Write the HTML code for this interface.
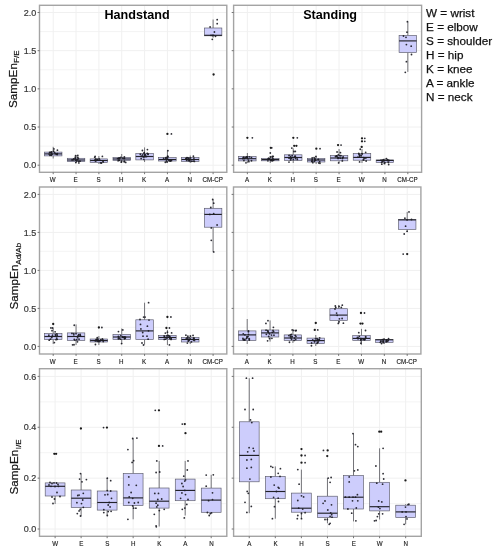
<!DOCTYPE html>
<html><head><meta charset="utf-8"><style>
html,body{margin:0;padding:0;background:#fff;}
svg{display:block;}
svg{will-change:transform;}
text{font-family:"Liberation Sans",sans-serif;}
.xl{font-size:7px;fill:#222;stroke:#222;stroke-width:0.16px;}
.yl{font-size:9px;fill:#383838;stroke:#383838;stroke-width:0.2px;}
.ft{font-size:12.6px;font-weight:bold;fill:#000;}
.yt{font-size:11.7px;fill:#111;stroke:#111;stroke-width:0.2px;}
.yt.sub{font-size:8px;}
.lg{font-size:11.7px;fill:#111;stroke:#111;stroke-width:0.25px;}
</style></head>
<body>
<svg width="496" height="550" viewBox="0 0 496 550">
<rect width="496" height="550" fill="#ffffff"/>
<line x1="39.5" x2="226.8" y1="146.11" y2="146.11" stroke="#f3f3f3" stroke-width="0.9"/>
<line x1="39.5" x2="226.8" y1="107.94" y2="107.94" stroke="#f3f3f3" stroke-width="0.9"/>
<line x1="39.5" x2="226.8" y1="69.76" y2="69.76" stroke="#f3f3f3" stroke-width="0.9"/>
<line x1="39.5" x2="226.8" y1="31.59" y2="31.59" stroke="#f3f3f3" stroke-width="0.9"/>
<line x1="39.5" x2="226.8" y1="165.20" y2="165.20" stroke="#f0f0f0" stroke-width="1"/>
<line x1="39.5" x2="226.8" y1="127.02" y2="127.02" stroke="#f0f0f0" stroke-width="1"/>
<line x1="39.5" x2="226.8" y1="88.85" y2="88.85" stroke="#f0f0f0" stroke-width="1"/>
<line x1="39.5" x2="226.8" y1="50.67" y2="50.67" stroke="#f0f0f0" stroke-width="1"/>
<line x1="39.5" x2="226.8" y1="12.50" y2="12.50" stroke="#f0f0f0" stroke-width="1"/>
<line x1="53.20" x2="53.20" y1="5.3" y2="172.3" stroke="#f0f0f0" stroke-width="1"/>
<line x1="76.05" x2="76.05" y1="5.3" y2="172.3" stroke="#f0f0f0" stroke-width="1"/>
<line x1="98.89" x2="98.89" y1="5.3" y2="172.3" stroke="#f0f0f0" stroke-width="1"/>
<line x1="121.73" x2="121.73" y1="5.3" y2="172.3" stroke="#f0f0f0" stroke-width="1"/>
<line x1="144.57" x2="144.57" y1="5.3" y2="172.3" stroke="#f0f0f0" stroke-width="1"/>
<line x1="167.41" x2="167.41" y1="5.3" y2="172.3" stroke="#f0f0f0" stroke-width="1"/>
<line x1="190.25" x2="190.25" y1="5.3" y2="172.3" stroke="#f0f0f0" stroke-width="1"/>
<line x1="213.10" x2="213.10" y1="5.3" y2="172.3" stroke="#f0f0f0" stroke-width="1"/>
<line x1="53.20" x2="53.20" y1="146.8" y2="152.1" stroke="#48484f" stroke-width="0.75"/>
<line x1="53.20" x2="53.20" y1="155.9" y2="158.5" stroke="#48484f" stroke-width="0.75"/>
<rect x="44.45" y="152.1" width="17.5" height="3.80" fill="#cdcdfc" stroke="#5a5a68" stroke-width="0.65"/>
<line x1="44.45" x2="61.95" y1="153.9" y2="153.9" stroke="#222228" stroke-width="1.15"/>
<circle cx="54.53" cy="152.67" r="0.9" fill="#1c1c24" fill-opacity="0.92"/>
<circle cx="52.03" cy="154.14" r="0.9" fill="#1c1c24" fill-opacity="0.92"/>
<circle cx="49.16" cy="154.03" r="0.9" fill="#1c1c24" fill-opacity="0.92"/>
<circle cx="49.62" cy="152.37" r="0.9" fill="#1c1c24" fill-opacity="0.92"/>
<circle cx="49.91" cy="155.24" r="0.9" fill="#1c1c24" fill-opacity="0.92"/>
<circle cx="57.12" cy="154.48" r="0.9" fill="#1c1c24" fill-opacity="0.92"/>
<circle cx="57.37" cy="153.61" r="0.9" fill="#1c1c24" fill-opacity="0.92"/>
<circle cx="51.36" cy="155.36" r="0.9" fill="#1c1c24" fill-opacity="0.92"/>
<circle cx="51.53" cy="152.55" r="0.9" fill="#1c1c24" fill-opacity="0.92"/>
<circle cx="53.92" cy="148.91" r="0.9" fill="#1c1c24" fill-opacity="0.92"/>
<circle cx="53.62" cy="151.16" r="0.9" fill="#1c1c24" fill-opacity="0.92"/>
<circle cx="50.63" cy="152.33" r="0.9" fill="#1c1c24" fill-opacity="0.92"/>
<circle cx="51.58" cy="151.80" r="0.9" fill="#1c1c24" fill-opacity="0.92"/>
<circle cx="51.45" cy="153.82" r="0.9" fill="#1c1c24" fill-opacity="0.92"/>
<circle cx="50.97" cy="154.98" r="0.9" fill="#1c1c24" fill-opacity="0.92"/>
<circle cx="56.49" cy="154.10" r="0.9" fill="#1c1c24" fill-opacity="0.92"/>
<circle cx="57.41" cy="150.17" r="0.9" fill="#1c1c24" fill-opacity="0.92"/>
<circle cx="55.45" cy="153.69" r="0.9" fill="#1c1c24" fill-opacity="0.92"/>
<line x1="76.05" x2="76.05" y1="155.0" y2="158.3" stroke="#48484f" stroke-width="0.75"/>
<line x1="76.05" x2="76.05" y1="161.6" y2="163.0" stroke="#48484f" stroke-width="0.75"/>
<rect x="67.30" y="158.3" width="17.5" height="3.30" fill="#cdcdfc" stroke="#5a5a68" stroke-width="0.65"/>
<line x1="67.30" x2="84.80" y1="160.0" y2="160.0" stroke="#222228" stroke-width="1.15"/>
<circle cx="72.01" cy="159.91" r="0.9" fill="#1c1c24" fill-opacity="0.92"/>
<circle cx="76.69" cy="161.12" r="0.9" fill="#1c1c24" fill-opacity="0.92"/>
<circle cx="77.76" cy="157.51" r="0.9" fill="#1c1c24" fill-opacity="0.92"/>
<circle cx="75.66" cy="160.21" r="0.9" fill="#1c1c24" fill-opacity="0.92"/>
<circle cx="75.82" cy="162.56" r="0.9" fill="#1c1c24" fill-opacity="0.92"/>
<circle cx="77.81" cy="155.49" r="0.9" fill="#1c1c24" fill-opacity="0.92"/>
<circle cx="78.86" cy="162.94" r="0.9" fill="#1c1c24" fill-opacity="0.92"/>
<circle cx="77.52" cy="159.57" r="0.9" fill="#1c1c24" fill-opacity="0.92"/>
<circle cx="73.14" cy="159.82" r="0.9" fill="#1c1c24" fill-opacity="0.92"/>
<circle cx="78.39" cy="158.49" r="0.9" fill="#1c1c24" fill-opacity="0.92"/>
<circle cx="75.09" cy="159.12" r="0.9" fill="#1c1c24" fill-opacity="0.92"/>
<circle cx="75.60" cy="155.64" r="0.9" fill="#1c1c24" fill-opacity="0.92"/>
<circle cx="78.84" cy="161.22" r="0.9" fill="#1c1c24" fill-opacity="0.92"/>
<circle cx="75.31" cy="157.23" r="0.9" fill="#1c1c24" fill-opacity="0.92"/>
<circle cx="80.05" cy="161.22" r="0.9" fill="#1c1c24" fill-opacity="0.92"/>
<circle cx="73.70" cy="158.88" r="0.9" fill="#1c1c24" fill-opacity="0.92"/>
<circle cx="76.83" cy="159.90" r="0.9" fill="#1c1c24" fill-opacity="0.92"/>
<circle cx="75.34" cy="158.31" r="0.9" fill="#1c1c24" fill-opacity="0.92"/>
<line x1="98.89" x2="98.89" y1="156.0" y2="158.9" stroke="#48484f" stroke-width="0.75"/>
<line x1="98.89" x2="98.89" y1="162.5" y2="164.0" stroke="#48484f" stroke-width="0.75"/>
<rect x="90.14" y="158.9" width="17.5" height="3.60" fill="#cdcdfc" stroke="#5a5a68" stroke-width="0.65"/>
<line x1="90.14" x2="107.64" y1="160.5" y2="160.5" stroke="#222228" stroke-width="1.15"/>
<circle cx="102.85" cy="160.94" r="0.9" fill="#1c1c24" fill-opacity="0.92"/>
<circle cx="99.92" cy="160.12" r="0.9" fill="#1c1c24" fill-opacity="0.92"/>
<circle cx="102.38" cy="156.43" r="0.9" fill="#1c1c24" fill-opacity="0.92"/>
<circle cx="101.49" cy="163.00" r="0.9" fill="#1c1c24" fill-opacity="0.92"/>
<circle cx="95.42" cy="160.34" r="0.9" fill="#1c1c24" fill-opacity="0.92"/>
<circle cx="95.10" cy="156.50" r="0.9" fill="#1c1c24" fill-opacity="0.92"/>
<circle cx="97.49" cy="159.48" r="0.9" fill="#1c1c24" fill-opacity="0.92"/>
<circle cx="95.84" cy="158.90" r="0.9" fill="#1c1c24" fill-opacity="0.92"/>
<circle cx="94.74" cy="160.21" r="0.9" fill="#1c1c24" fill-opacity="0.92"/>
<circle cx="95.81" cy="160.91" r="0.9" fill="#1c1c24" fill-opacity="0.92"/>
<circle cx="97.70" cy="160.15" r="0.9" fill="#1c1c24" fill-opacity="0.92"/>
<circle cx="103.20" cy="161.96" r="0.9" fill="#1c1c24" fill-opacity="0.92"/>
<circle cx="95.26" cy="160.64" r="0.9" fill="#1c1c24" fill-opacity="0.92"/>
<circle cx="96.83" cy="160.13" r="0.9" fill="#1c1c24" fill-opacity="0.92"/>
<circle cx="94.71" cy="157.29" r="0.9" fill="#1c1c24" fill-opacity="0.92"/>
<circle cx="95.80" cy="160.23" r="0.9" fill="#1c1c24" fill-opacity="0.92"/>
<circle cx="99.13" cy="159.00" r="0.9" fill="#1c1c24" fill-opacity="0.92"/>
<circle cx="100.60" cy="162.91" r="0.9" fill="#1c1c24" fill-opacity="0.92"/>
<line x1="121.73" x2="121.73" y1="154.0" y2="157.5" stroke="#48484f" stroke-width="0.75"/>
<line x1="121.73" x2="121.73" y1="160.5" y2="162.5" stroke="#48484f" stroke-width="0.75"/>
<rect x="112.98" y="157.5" width="17.5" height="3.00" fill="#cdcdfc" stroke="#5a5a68" stroke-width="0.65"/>
<line x1="112.98" x2="130.48" y1="159.0" y2="159.0" stroke="#222228" stroke-width="1.15"/>
<circle cx="118.82" cy="158.60" r="0.9" fill="#1c1c24" fill-opacity="0.92"/>
<circle cx="124.17" cy="158.53" r="0.9" fill="#1c1c24" fill-opacity="0.92"/>
<circle cx="124.45" cy="158.17" r="0.9" fill="#1c1c24" fill-opacity="0.92"/>
<circle cx="124.41" cy="161.25" r="0.9" fill="#1c1c24" fill-opacity="0.92"/>
<circle cx="119.34" cy="160.29" r="0.9" fill="#1c1c24" fill-opacity="0.92"/>
<circle cx="117.61" cy="158.57" r="0.9" fill="#1c1c24" fill-opacity="0.92"/>
<circle cx="119.62" cy="158.34" r="0.9" fill="#1c1c24" fill-opacity="0.92"/>
<circle cx="121.27" cy="162.13" r="0.9" fill="#1c1c24" fill-opacity="0.92"/>
<circle cx="125.71" cy="162.40" r="0.9" fill="#1c1c24" fill-opacity="0.92"/>
<circle cx="119.34" cy="158.16" r="0.9" fill="#1c1c24" fill-opacity="0.92"/>
<circle cx="122.81" cy="158.11" r="0.9" fill="#1c1c24" fill-opacity="0.92"/>
<circle cx="121.55" cy="161.14" r="0.9" fill="#1c1c24" fill-opacity="0.92"/>
<circle cx="118.10" cy="160.80" r="0.9" fill="#1c1c24" fill-opacity="0.92"/>
<circle cx="124.20" cy="161.73" r="0.9" fill="#1c1c24" fill-opacity="0.92"/>
<circle cx="118.92" cy="158.06" r="0.9" fill="#1c1c24" fill-opacity="0.92"/>
<circle cx="124.36" cy="156.83" r="0.9" fill="#1c1c24" fill-opacity="0.92"/>
<circle cx="120.87" cy="157.36" r="0.9" fill="#1c1c24" fill-opacity="0.92"/>
<circle cx="118.84" cy="160.16" r="0.9" fill="#1c1c24" fill-opacity="0.92"/>
<line x1="144.57" x2="144.57" y1="147.4" y2="153.4" stroke="#48484f" stroke-width="0.75"/>
<line x1="144.57" x2="144.57" y1="159.9" y2="162.0" stroke="#48484f" stroke-width="0.75"/>
<rect x="135.82" y="153.4" width="17.5" height="6.50" fill="#cdcdfc" stroke="#5a5a68" stroke-width="0.65"/>
<line x1="135.82" x2="153.32" y1="156.5" y2="156.5" stroke="#222228" stroke-width="1.15"/>
<circle cx="148.11" cy="154.38" r="0.9" fill="#1c1c24" fill-opacity="0.92"/>
<circle cx="147.43" cy="149.53" r="0.9" fill="#1c1c24" fill-opacity="0.92"/>
<circle cx="143.26" cy="157.00" r="0.9" fill="#1c1c24" fill-opacity="0.92"/>
<circle cx="140.32" cy="154.25" r="0.9" fill="#1c1c24" fill-opacity="0.92"/>
<circle cx="144.80" cy="156.89" r="0.9" fill="#1c1c24" fill-opacity="0.92"/>
<circle cx="147.82" cy="153.73" r="0.9" fill="#1c1c24" fill-opacity="0.92"/>
<circle cx="142.40" cy="150.48" r="0.9" fill="#1c1c24" fill-opacity="0.92"/>
<circle cx="145.33" cy="154.96" r="0.9" fill="#1c1c24" fill-opacity="0.92"/>
<circle cx="141.34" cy="156.12" r="0.9" fill="#1c1c24" fill-opacity="0.92"/>
<circle cx="144.20" cy="152.57" r="0.9" fill="#1c1c24" fill-opacity="0.92"/>
<circle cx="143.88" cy="159.28" r="0.9" fill="#1c1c24" fill-opacity="0.92"/>
<circle cx="144.85" cy="154.72" r="0.9" fill="#1c1c24" fill-opacity="0.92"/>
<circle cx="144.05" cy="153.52" r="0.9" fill="#1c1c24" fill-opacity="0.92"/>
<circle cx="147.19" cy="153.43" r="0.9" fill="#1c1c24" fill-opacity="0.92"/>
<circle cx="146.54" cy="156.48" r="0.9" fill="#1c1c24" fill-opacity="0.92"/>
<circle cx="144.73" cy="155.52" r="0.9" fill="#1c1c24" fill-opacity="0.92"/>
<circle cx="141.12" cy="158.50" r="0.9" fill="#1c1c24" fill-opacity="0.92"/>
<circle cx="142.62" cy="155.02" r="0.9" fill="#1c1c24" fill-opacity="0.92"/>
<line x1="167.41" x2="167.41" y1="150.4" y2="157.5" stroke="#48484f" stroke-width="0.75"/>
<line x1="167.41" x2="167.41" y1="161.0" y2="163.0" stroke="#48484f" stroke-width="0.75"/>
<rect x="158.66" y="157.5" width="17.5" height="3.50" fill="#cdcdfc" stroke="#5a5a68" stroke-width="0.65"/>
<line x1="158.66" x2="176.16" y1="159.5" y2="159.5" stroke="#222228" stroke-width="1.15"/>
<circle cx="167.41" cy="133.9" r="1.15" fill="#1a1a1a"/>
<circle cx="171.41" cy="133.9" r="0.9" fill="#1c1c24" fill-opacity="0.92"/>
<circle cx="167.95" cy="156.80" r="0.9" fill="#1c1c24" fill-opacity="0.92"/>
<circle cx="166.92" cy="161.90" r="0.9" fill="#1c1c24" fill-opacity="0.92"/>
<circle cx="167.52" cy="156.77" r="0.9" fill="#1c1c24" fill-opacity="0.92"/>
<circle cx="167.70" cy="156.10" r="0.9" fill="#1c1c24" fill-opacity="0.92"/>
<circle cx="169.16" cy="160.80" r="0.9" fill="#1c1c24" fill-opacity="0.92"/>
<circle cx="165.31" cy="162.27" r="0.9" fill="#1c1c24" fill-opacity="0.92"/>
<circle cx="170.39" cy="160.80" r="0.9" fill="#1c1c24" fill-opacity="0.92"/>
<circle cx="166.91" cy="157.93" r="0.9" fill="#1c1c24" fill-opacity="0.92"/>
<circle cx="163.68" cy="158.34" r="0.9" fill="#1c1c24" fill-opacity="0.92"/>
<circle cx="170.89" cy="160.28" r="0.9" fill="#1c1c24" fill-opacity="0.92"/>
<circle cx="168.81" cy="160.01" r="0.9" fill="#1c1c24" fill-opacity="0.92"/>
<circle cx="171.50" cy="160.59" r="0.9" fill="#1c1c24" fill-opacity="0.92"/>
<circle cx="166.52" cy="160.83" r="0.9" fill="#1c1c24" fill-opacity="0.92"/>
<circle cx="170.32" cy="160.96" r="0.9" fill="#1c1c24" fill-opacity="0.92"/>
<circle cx="167.55" cy="159.01" r="0.9" fill="#1c1c24" fill-opacity="0.92"/>
<circle cx="165.82" cy="158.19" r="0.9" fill="#1c1c24" fill-opacity="0.92"/>
<circle cx="167.89" cy="150.65" r="0.9" fill="#1c1c24" fill-opacity="0.92"/>
<circle cx="165.94" cy="157.56" r="0.9" fill="#1c1c24" fill-opacity="0.92"/>
<line x1="190.25" x2="190.25" y1="155.5" y2="157.5" stroke="#48484f" stroke-width="0.75"/>
<line x1="190.25" x2="190.25" y1="161.5" y2="163.0" stroke="#48484f" stroke-width="0.75"/>
<rect x="181.50" y="157.5" width="17.5" height="4.00" fill="#cdcdfc" stroke="#5a5a68" stroke-width="0.65"/>
<line x1="181.50" x2="199.00" y1="159.5" y2="159.5" stroke="#222228" stroke-width="1.15"/>
<circle cx="186.44" cy="159.34" r="0.9" fill="#1c1c24" fill-opacity="0.92"/>
<circle cx="194.38" cy="161.41" r="0.9" fill="#1c1c24" fill-opacity="0.92"/>
<circle cx="186.23" cy="158.56" r="0.9" fill="#1c1c24" fill-opacity="0.92"/>
<circle cx="187.01" cy="157.53" r="0.9" fill="#1c1c24" fill-opacity="0.92"/>
<circle cx="193.04" cy="161.15" r="0.9" fill="#1c1c24" fill-opacity="0.92"/>
<circle cx="193.92" cy="158.10" r="0.9" fill="#1c1c24" fill-opacity="0.92"/>
<circle cx="186.66" cy="160.30" r="0.9" fill="#1c1c24" fill-opacity="0.92"/>
<circle cx="189.60" cy="160.25" r="0.9" fill="#1c1c24" fill-opacity="0.92"/>
<circle cx="191.43" cy="161.25" r="0.9" fill="#1c1c24" fill-opacity="0.92"/>
<circle cx="193.37" cy="156.13" r="0.9" fill="#1c1c24" fill-opacity="0.92"/>
<circle cx="189.85" cy="160.95" r="0.9" fill="#1c1c24" fill-opacity="0.92"/>
<circle cx="193.99" cy="159.71" r="0.9" fill="#1c1c24" fill-opacity="0.92"/>
<circle cx="190.49" cy="158.02" r="0.9" fill="#1c1c24" fill-opacity="0.92"/>
<circle cx="187.29" cy="157.94" r="0.9" fill="#1c1c24" fill-opacity="0.92"/>
<circle cx="188.61" cy="158.31" r="0.9" fill="#1c1c24" fill-opacity="0.92"/>
<circle cx="188.42" cy="160.54" r="0.9" fill="#1c1c24" fill-opacity="0.92"/>
<circle cx="188.91" cy="158.21" r="0.9" fill="#1c1c24" fill-opacity="0.92"/>
<circle cx="186.01" cy="158.50" r="0.9" fill="#1c1c24" fill-opacity="0.92"/>
<line x1="213.10" x2="213.10" y1="19.5" y2="28.0" stroke="#48484f" stroke-width="0.75"/>
<line x1="213.10" x2="213.10" y1="35.8" y2="37.7" stroke="#48484f" stroke-width="0.75"/>
<rect x="204.35" y="28.0" width="17.5" height="7.80" fill="#cdcdfc" stroke="#5a5a68" stroke-width="0.65"/>
<line x1="204.35" x2="221.85" y1="35.3" y2="35.3" stroke="#222228" stroke-width="1.15"/>
<circle cx="213.60" cy="74.5" r="1.15" fill="#1a1a1a"/>
<circle cx="217.20" cy="19.70" r="0.9" fill="#1c1c24" fill-opacity="0.92"/>
<circle cx="217.20" cy="23.70" r="0.9" fill="#1c1c24" fill-opacity="0.92"/>
<circle cx="210.10" cy="27.00" r="0.9" fill="#1c1c24" fill-opacity="0.92"/>
<circle cx="214.40" cy="32.00" r="0.9" fill="#1c1c24" fill-opacity="0.92"/>
<circle cx="212.50" cy="35.50" r="0.9" fill="#1c1c24" fill-opacity="0.92"/>
<circle cx="215.50" cy="36.30" r="0.9" fill="#1c1c24" fill-opacity="0.92"/>
<circle cx="212.30" cy="39.30" r="0.9" fill="#1c1c24" fill-opacity="0.92"/>
<circle cx="211.00" cy="35.30" r="0.9" fill="#1c1c24" fill-opacity="0.92"/>
<circle cx="213.50" cy="35.30" r="0.9" fill="#1c1c24" fill-opacity="0.92"/>
<rect x="39.5" y="5.3" width="187.30" height="167.00" fill="none" stroke="#a4a4a4" stroke-width="1.4"/>
<line x1="37.60" x2="39.5" y1="165.20" y2="165.20" stroke="#666" stroke-width="0.9"/>
<line x1="37.60" x2="39.5" y1="127.02" y2="127.02" stroke="#666" stroke-width="0.9"/>
<line x1="37.60" x2="39.5" y1="88.85" y2="88.85" stroke="#666" stroke-width="0.9"/>
<line x1="37.60" x2="39.5" y1="50.67" y2="50.67" stroke="#666" stroke-width="0.9"/>
<line x1="37.60" x2="39.5" y1="12.50" y2="12.50" stroke="#666" stroke-width="0.9"/>
<line x1="53.20" x2="53.20" y1="172.3" y2="174.20" stroke="#666" stroke-width="0.9"/>
<text transform="translate(52.80,181.90) scale(0.89,1)" text-anchor="middle" class="xl">W</text>
<line x1="76.05" x2="76.05" y1="172.3" y2="174.20" stroke="#666" stroke-width="0.9"/>
<text transform="translate(75.65,181.90) scale(0.89,1)" text-anchor="middle" class="xl">E</text>
<line x1="98.89" x2="98.89" y1="172.3" y2="174.20" stroke="#666" stroke-width="0.9"/>
<text transform="translate(98.49,181.90) scale(0.89,1)" text-anchor="middle" class="xl">S</text>
<line x1="121.73" x2="121.73" y1="172.3" y2="174.20" stroke="#666" stroke-width="0.9"/>
<text transform="translate(121.33,181.90) scale(0.89,1)" text-anchor="middle" class="xl">H</text>
<line x1="144.57" x2="144.57" y1="172.3" y2="174.20" stroke="#666" stroke-width="0.9"/>
<text transform="translate(144.17,181.90) scale(0.89,1)" text-anchor="middle" class="xl">K</text>
<line x1="167.41" x2="167.41" y1="172.3" y2="174.20" stroke="#666" stroke-width="0.9"/>
<text transform="translate(167.01,181.90) scale(0.89,1)" text-anchor="middle" class="xl">A</text>
<line x1="190.25" x2="190.25" y1="172.3" y2="174.20" stroke="#666" stroke-width="0.9"/>
<text transform="translate(189.85,181.90) scale(0.89,1)" text-anchor="middle" class="xl">N</text>
<line x1="213.10" x2="213.10" y1="172.3" y2="174.20" stroke="#666" stroke-width="0.9"/>
<text transform="translate(212.70,181.90) scale(0.89,1)" text-anchor="middle" class="xl">CM-CP</text>
<line x1="233.6" x2="421.6" y1="146.11" y2="146.11" stroke="#f3f3f3" stroke-width="0.9"/>
<line x1="233.6" x2="421.6" y1="107.94" y2="107.94" stroke="#f3f3f3" stroke-width="0.9"/>
<line x1="233.6" x2="421.6" y1="69.76" y2="69.76" stroke="#f3f3f3" stroke-width="0.9"/>
<line x1="233.6" x2="421.6" y1="31.59" y2="31.59" stroke="#f3f3f3" stroke-width="0.9"/>
<line x1="233.6" x2="421.6" y1="165.20" y2="165.20" stroke="#f0f0f0" stroke-width="1"/>
<line x1="233.6" x2="421.6" y1="127.02" y2="127.02" stroke="#f0f0f0" stroke-width="1"/>
<line x1="233.6" x2="421.6" y1="88.85" y2="88.85" stroke="#f0f0f0" stroke-width="1"/>
<line x1="233.6" x2="421.6" y1="50.67" y2="50.67" stroke="#f0f0f0" stroke-width="1"/>
<line x1="233.6" x2="421.6" y1="12.50" y2="12.50" stroke="#f0f0f0" stroke-width="1"/>
<line x1="247.36" x2="247.36" y1="5.3" y2="172.3" stroke="#f0f0f0" stroke-width="1"/>
<line x1="270.28" x2="270.28" y1="5.3" y2="172.3" stroke="#f0f0f0" stroke-width="1"/>
<line x1="293.21" x2="293.21" y1="5.3" y2="172.3" stroke="#f0f0f0" stroke-width="1"/>
<line x1="316.14" x2="316.14" y1="5.3" y2="172.3" stroke="#f0f0f0" stroke-width="1"/>
<line x1="339.06" x2="339.06" y1="5.3" y2="172.3" stroke="#f0f0f0" stroke-width="1"/>
<line x1="361.99" x2="361.99" y1="5.3" y2="172.3" stroke="#f0f0f0" stroke-width="1"/>
<line x1="384.92" x2="384.92" y1="5.3" y2="172.3" stroke="#f0f0f0" stroke-width="1"/>
<line x1="407.84" x2="407.84" y1="5.3" y2="172.3" stroke="#f0f0f0" stroke-width="1"/>
<line x1="247.36" x2="247.36" y1="153.0" y2="156.5" stroke="#48484f" stroke-width="0.75"/>
<line x1="247.36" x2="247.36" y1="160.9" y2="163.0" stroke="#48484f" stroke-width="0.75"/>
<rect x="238.61" y="156.5" width="17.5" height="4.40" fill="#cdcdfc" stroke="#5a5a68" stroke-width="0.65"/>
<line x1="238.61" x2="256.11" y1="158.7" y2="158.7" stroke="#222228" stroke-width="1.15"/>
<circle cx="247.36" cy="137.8" r="1.15" fill="#1a1a1a"/>
<circle cx="252.36" cy="137.8" r="0.9" fill="#1c1c24" fill-opacity="0.92"/>
<circle cx="244.64" cy="158.51" r="0.9" fill="#1c1c24" fill-opacity="0.92"/>
<circle cx="243.91" cy="160.61" r="0.9" fill="#1c1c24" fill-opacity="0.92"/>
<circle cx="247.31" cy="157.32" r="0.9" fill="#1c1c24" fill-opacity="0.92"/>
<circle cx="247.41" cy="156.93" r="0.9" fill="#1c1c24" fill-opacity="0.92"/>
<circle cx="245.98" cy="162.82" r="0.9" fill="#1c1c24" fill-opacity="0.92"/>
<circle cx="248.55" cy="160.07" r="0.9" fill="#1c1c24" fill-opacity="0.92"/>
<circle cx="243.46" cy="158.03" r="0.9" fill="#1c1c24" fill-opacity="0.92"/>
<circle cx="249.46" cy="156.81" r="0.9" fill="#1c1c24" fill-opacity="0.92"/>
<circle cx="243.72" cy="157.22" r="0.9" fill="#1c1c24" fill-opacity="0.92"/>
<circle cx="248.85" cy="161.71" r="0.9" fill="#1c1c24" fill-opacity="0.92"/>
<circle cx="245.55" cy="157.57" r="0.9" fill="#1c1c24" fill-opacity="0.92"/>
<circle cx="246.88" cy="157.19" r="0.9" fill="#1c1c24" fill-opacity="0.92"/>
<circle cx="251.49" cy="160.73" r="0.9" fill="#1c1c24" fill-opacity="0.92"/>
<circle cx="251.43" cy="157.58" r="0.9" fill="#1c1c24" fill-opacity="0.92"/>
<circle cx="242.99" cy="158.07" r="0.9" fill="#1c1c24" fill-opacity="0.92"/>
<circle cx="247.38" cy="158.59" r="0.9" fill="#1c1c24" fill-opacity="0.92"/>
<circle cx="243.02" cy="158.72" r="0.9" fill="#1c1c24" fill-opacity="0.92"/>
<circle cx="246.48" cy="156.89" r="0.9" fill="#1c1c24" fill-opacity="0.92"/>
<line x1="270.28" x2="270.28" y1="156.0" y2="158.4" stroke="#48484f" stroke-width="0.75"/>
<line x1="270.28" x2="270.28" y1="160.8" y2="163.0" stroke="#48484f" stroke-width="0.75"/>
<rect x="261.53" y="158.4" width="17.5" height="2.40" fill="#cdcdfc" stroke="#5a5a68" stroke-width="0.65"/>
<line x1="261.53" x2="279.03" y1="159.6" y2="159.6" stroke="#222228" stroke-width="1.15"/>
<circle cx="270.78" cy="147.8" r="1.15" fill="#1a1a1a"/>
<circle cx="271.78" cy="147.8" r="0.9" fill="#1c1c24" fill-opacity="0.92"/>
<circle cx="270.28" cy="153.0" r="0.9" fill="#1c1c24" fill-opacity="0.92"/>
<circle cx="268.57" cy="158.45" r="0.9" fill="#1c1c24" fill-opacity="0.92"/>
<circle cx="270.54" cy="159.81" r="0.9" fill="#1c1c24" fill-opacity="0.92"/>
<circle cx="272.17" cy="160.60" r="0.9" fill="#1c1c24" fill-opacity="0.92"/>
<circle cx="268.76" cy="158.73" r="0.9" fill="#1c1c24" fill-opacity="0.92"/>
<circle cx="272.24" cy="157.05" r="0.9" fill="#1c1c24" fill-opacity="0.92"/>
<circle cx="273.22" cy="156.31" r="0.9" fill="#1c1c24" fill-opacity="0.92"/>
<circle cx="272.33" cy="160.39" r="0.9" fill="#1c1c24" fill-opacity="0.92"/>
<circle cx="270.49" cy="156.98" r="0.9" fill="#1c1c24" fill-opacity="0.92"/>
<circle cx="272.95" cy="160.40" r="0.9" fill="#1c1c24" fill-opacity="0.92"/>
<circle cx="273.72" cy="160.09" r="0.9" fill="#1c1c24" fill-opacity="0.92"/>
<circle cx="267.92" cy="160.85" r="0.9" fill="#1c1c24" fill-opacity="0.92"/>
<circle cx="269.06" cy="158.72" r="0.9" fill="#1c1c24" fill-opacity="0.92"/>
<circle cx="270.80" cy="160.41" r="0.9" fill="#1c1c24" fill-opacity="0.92"/>
<circle cx="271.86" cy="160.38" r="0.9" fill="#1c1c24" fill-opacity="0.92"/>
<circle cx="272.89" cy="158.41" r="0.9" fill="#1c1c24" fill-opacity="0.92"/>
<circle cx="270.59" cy="159.52" r="0.9" fill="#1c1c24" fill-opacity="0.92"/>
<circle cx="272.35" cy="156.46" r="0.9" fill="#1c1c24" fill-opacity="0.92"/>
<circle cx="268.23" cy="158.58" r="0.9" fill="#1c1c24" fill-opacity="0.92"/>
<line x1="293.21" x2="293.21" y1="148.4" y2="154.8" stroke="#48484f" stroke-width="0.75"/>
<line x1="293.21" x2="293.21" y1="160.5" y2="163.0" stroke="#48484f" stroke-width="0.75"/>
<rect x="284.46" y="154.8" width="17.5" height="5.70" fill="#cdcdfc" stroke="#5a5a68" stroke-width="0.65"/>
<line x1="284.46" x2="301.96" y1="157.5" y2="157.5" stroke="#222228" stroke-width="1.15"/>
<circle cx="293.31" cy="137.8" r="1.15" fill="#1a1a1a"/>
<circle cx="297.31" cy="137.8" r="0.9" fill="#1c1c24" fill-opacity="0.92"/>
<circle cx="294.21" cy="145.8" r="1.15" fill="#1a1a1a"/>
<circle cx="296.41" cy="145.8" r="1.15" fill="#1a1a1a"/>
<circle cx="291.81" cy="148.1" r="0.9" fill="#1c1c24" fill-opacity="0.92"/>
<circle cx="295.31" cy="151.40" r="0.9" fill="#1c1c24" fill-opacity="0.92"/>
<circle cx="292.18" cy="155.61" r="0.9" fill="#1c1c24" fill-opacity="0.92"/>
<circle cx="295.55" cy="158.70" r="0.9" fill="#1c1c24" fill-opacity="0.92"/>
<circle cx="289.51" cy="157.78" r="0.9" fill="#1c1c24" fill-opacity="0.92"/>
<circle cx="295.34" cy="156.25" r="0.9" fill="#1c1c24" fill-opacity="0.92"/>
<circle cx="288.94" cy="158.04" r="0.9" fill="#1c1c24" fill-opacity="0.92"/>
<circle cx="294.71" cy="156.33" r="0.9" fill="#1c1c24" fill-opacity="0.92"/>
<circle cx="291.38" cy="158.27" r="0.9" fill="#1c1c24" fill-opacity="0.92"/>
<circle cx="292.92" cy="157.45" r="0.9" fill="#1c1c24" fill-opacity="0.92"/>
<circle cx="290.58" cy="159.89" r="0.9" fill="#1c1c24" fill-opacity="0.92"/>
<circle cx="288.99" cy="162.07" r="0.9" fill="#1c1c24" fill-opacity="0.92"/>
<circle cx="297.31" cy="159.47" r="0.9" fill="#1c1c24" fill-opacity="0.92"/>
<circle cx="290.67" cy="156.33" r="0.9" fill="#1c1c24" fill-opacity="0.92"/>
<circle cx="293.92" cy="151.48" r="0.9" fill="#1c1c24" fill-opacity="0.92"/>
<circle cx="297.17" cy="157.79" r="0.9" fill="#1c1c24" fill-opacity="0.92"/>
<circle cx="293.29" cy="159.48" r="0.9" fill="#1c1c24" fill-opacity="0.92"/>
<circle cx="290.86" cy="158.67" r="0.9" fill="#1c1c24" fill-opacity="0.92"/>
<circle cx="289.05" cy="155.50" r="0.9" fill="#1c1c24" fill-opacity="0.92"/>
<line x1="316.14" x2="316.14" y1="155.5" y2="158.5" stroke="#48484f" stroke-width="0.75"/>
<line x1="316.14" x2="316.14" y1="162.0" y2="164.0" stroke="#48484f" stroke-width="0.75"/>
<rect x="307.39" y="158.5" width="17.5" height="3.50" fill="#cdcdfc" stroke="#5a5a68" stroke-width="0.65"/>
<line x1="307.39" x2="324.89" y1="160.0" y2="160.0" stroke="#222228" stroke-width="1.15"/>
<circle cx="316.34" cy="148.7" r="1.15" fill="#1a1a1a"/>
<circle cx="320.04" cy="148.7" r="0.9" fill="#1c1c24" fill-opacity="0.92"/>
<circle cx="315.71" cy="160.22" r="0.9" fill="#1c1c24" fill-opacity="0.92"/>
<circle cx="314.77" cy="158.99" r="0.9" fill="#1c1c24" fill-opacity="0.92"/>
<circle cx="311.78" cy="161.44" r="0.9" fill="#1c1c24" fill-opacity="0.92"/>
<circle cx="312.81" cy="162.63" r="0.9" fill="#1c1c24" fill-opacity="0.92"/>
<circle cx="319.65" cy="161.56" r="0.9" fill="#1c1c24" fill-opacity="0.92"/>
<circle cx="315.20" cy="159.80" r="0.9" fill="#1c1c24" fill-opacity="0.92"/>
<circle cx="314.92" cy="160.51" r="0.9" fill="#1c1c24" fill-opacity="0.92"/>
<circle cx="312.18" cy="159.46" r="0.9" fill="#1c1c24" fill-opacity="0.92"/>
<circle cx="314.26" cy="161.42" r="0.9" fill="#1c1c24" fill-opacity="0.92"/>
<circle cx="314.09" cy="157.62" r="0.9" fill="#1c1c24" fill-opacity="0.92"/>
<circle cx="315.03" cy="159.16" r="0.9" fill="#1c1c24" fill-opacity="0.92"/>
<circle cx="318.87" cy="163.02" r="0.9" fill="#1c1c24" fill-opacity="0.92"/>
<circle cx="319.99" cy="163.26" r="0.9" fill="#1c1c24" fill-opacity="0.92"/>
<circle cx="312.19" cy="161.02" r="0.9" fill="#1c1c24" fill-opacity="0.92"/>
<circle cx="318.35" cy="159.33" r="0.9" fill="#1c1c24" fill-opacity="0.92"/>
<circle cx="312.19" cy="157.93" r="0.9" fill="#1c1c24" fill-opacity="0.92"/>
<circle cx="315.89" cy="156.58" r="0.9" fill="#1c1c24" fill-opacity="0.92"/>
<circle cx="318.23" cy="159.54" r="0.9" fill="#1c1c24" fill-opacity="0.92"/>
<line x1="339.06" x2="339.06" y1="149.0" y2="155.5" stroke="#48484f" stroke-width="0.75"/>
<line x1="339.06" x2="339.06" y1="160.8" y2="163.0" stroke="#48484f" stroke-width="0.75"/>
<rect x="330.31" y="155.5" width="17.5" height="5.30" fill="#cdcdfc" stroke="#5a5a68" stroke-width="0.65"/>
<line x1="330.31" x2="347.81" y1="158.0" y2="158.0" stroke="#222228" stroke-width="1.15"/>
<circle cx="338.06" cy="145.1" r="1.15" fill="#1a1a1a"/>
<circle cx="341.06" cy="145.1" r="0.9" fill="#1c1c24" fill-opacity="0.92"/>
<circle cx="340.43" cy="152.64" r="0.9" fill="#1c1c24" fill-opacity="0.92"/>
<circle cx="338.14" cy="158.45" r="0.9" fill="#1c1c24" fill-opacity="0.92"/>
<circle cx="336.51" cy="156.36" r="0.9" fill="#1c1c24" fill-opacity="0.92"/>
<circle cx="336.61" cy="155.96" r="0.9" fill="#1c1c24" fill-opacity="0.92"/>
<circle cx="338.63" cy="162.95" r="0.9" fill="#1c1c24" fill-opacity="0.92"/>
<circle cx="335.48" cy="156.52" r="0.9" fill="#1c1c24" fill-opacity="0.92"/>
<circle cx="336.78" cy="155.98" r="0.9" fill="#1c1c24" fill-opacity="0.92"/>
<circle cx="342.45" cy="158.52" r="0.9" fill="#1c1c24" fill-opacity="0.92"/>
<circle cx="338.31" cy="154.78" r="0.9" fill="#1c1c24" fill-opacity="0.92"/>
<circle cx="337.65" cy="157.50" r="0.9" fill="#1c1c24" fill-opacity="0.92"/>
<circle cx="343.16" cy="156.97" r="0.9" fill="#1c1c24" fill-opacity="0.92"/>
<circle cx="340.20" cy="158.17" r="0.9" fill="#1c1c24" fill-opacity="0.92"/>
<circle cx="337.06" cy="152.02" r="0.9" fill="#1c1c24" fill-opacity="0.92"/>
<circle cx="338.59" cy="157.62" r="0.9" fill="#1c1c24" fill-opacity="0.92"/>
<circle cx="342.33" cy="160.88" r="0.9" fill="#1c1c24" fill-opacity="0.92"/>
<circle cx="340.90" cy="155.67" r="0.9" fill="#1c1c24" fill-opacity="0.92"/>
<circle cx="339.83" cy="155.63" r="0.9" fill="#1c1c24" fill-opacity="0.92"/>
<circle cx="342.80" cy="157.58" r="0.9" fill="#1c1c24" fill-opacity="0.92"/>
<line x1="361.99" x2="361.99" y1="149.1" y2="153.5" stroke="#48484f" stroke-width="0.75"/>
<line x1="361.99" x2="361.99" y1="160.2" y2="163.0" stroke="#48484f" stroke-width="0.75"/>
<rect x="353.24" y="153.5" width="17.5" height="6.70" fill="#cdcdfc" stroke="#5a5a68" stroke-width="0.65"/>
<line x1="353.24" x2="370.74" y1="157.4" y2="157.4" stroke="#222228" stroke-width="1.15"/>
<circle cx="361.99" cy="138.3" r="1.15" fill="#1a1a1a"/>
<circle cx="364.79" cy="138.3" r="0.9" fill="#1c1c24" fill-opacity="0.92"/>
<circle cx="361.99" cy="141.3" r="1.15" fill="#1a1a1a"/>
<circle cx="364.79" cy="141.3" r="0.9" fill="#1c1c24" fill-opacity="0.92"/>
<circle cx="361.69" cy="146.9" r="1.15" fill="#1a1a1a"/>
<circle cx="366.12" cy="160.99" r="0.9" fill="#1c1c24" fill-opacity="0.92"/>
<circle cx="358.97" cy="154.23" r="0.9" fill="#1c1c24" fill-opacity="0.92"/>
<circle cx="365.85" cy="158.07" r="0.9" fill="#1c1c24" fill-opacity="0.92"/>
<circle cx="364.31" cy="158.10" r="0.9" fill="#1c1c24" fill-opacity="0.92"/>
<circle cx="357.96" cy="157.20" r="0.9" fill="#1c1c24" fill-opacity="0.92"/>
<circle cx="365.66" cy="152.33" r="0.9" fill="#1c1c24" fill-opacity="0.92"/>
<circle cx="358.73" cy="153.32" r="0.9" fill="#1c1c24" fill-opacity="0.92"/>
<circle cx="363.73" cy="157.76" r="0.9" fill="#1c1c24" fill-opacity="0.92"/>
<circle cx="362.20" cy="153.97" r="0.9" fill="#1c1c24" fill-opacity="0.92"/>
<circle cx="359.57" cy="156.10" r="0.9" fill="#1c1c24" fill-opacity="0.92"/>
<circle cx="360.25" cy="149.25" r="0.9" fill="#1c1c24" fill-opacity="0.92"/>
<circle cx="363.26" cy="159.92" r="0.9" fill="#1c1c24" fill-opacity="0.92"/>
<circle cx="359.67" cy="155.71" r="0.9" fill="#1c1c24" fill-opacity="0.92"/>
<circle cx="363.78" cy="159.94" r="0.9" fill="#1c1c24" fill-opacity="0.92"/>
<circle cx="361.98" cy="153.65" r="0.9" fill="#1c1c24" fill-opacity="0.92"/>
<circle cx="359.87" cy="154.94" r="0.9" fill="#1c1c24" fill-opacity="0.92"/>
<circle cx="359.60" cy="161.96" r="0.9" fill="#1c1c24" fill-opacity="0.92"/>
<circle cx="361.30" cy="155.76" r="0.9" fill="#1c1c24" fill-opacity="0.92"/>
<line x1="384.92" x2="384.92" y1="158.5" y2="160.0" stroke="#48484f" stroke-width="0.75"/>
<line x1="384.92" x2="384.92" y1="162.5" y2="164.5" stroke="#48484f" stroke-width="0.75"/>
<rect x="376.17" y="160.0" width="17.5" height="2.50" fill="#cdcdfc" stroke="#5a5a68" stroke-width="0.65"/>
<line x1="376.17" x2="393.67" y1="160.4" y2="160.4" stroke="#222228" stroke-width="1.15"/>
<circle cx="387.52" cy="159.69" r="0.9" fill="#1c1c24" fill-opacity="0.92"/>
<circle cx="382.34" cy="161.53" r="0.9" fill="#1c1c24" fill-opacity="0.92"/>
<circle cx="387.72" cy="160.37" r="0.9" fill="#1c1c24" fill-opacity="0.92"/>
<circle cx="387.20" cy="160.55" r="0.9" fill="#1c1c24" fill-opacity="0.92"/>
<circle cx="384.88" cy="162.38" r="0.9" fill="#1c1c24" fill-opacity="0.92"/>
<circle cx="384.19" cy="160.56" r="0.9" fill="#1c1c24" fill-opacity="0.92"/>
<circle cx="381.82" cy="164.19" r="0.9" fill="#1c1c24" fill-opacity="0.92"/>
<circle cx="389.07" cy="160.53" r="0.9" fill="#1c1c24" fill-opacity="0.92"/>
<circle cx="381.07" cy="160.13" r="0.9" fill="#1c1c24" fill-opacity="0.92"/>
<circle cx="388.27" cy="162.25" r="0.9" fill="#1c1c24" fill-opacity="0.92"/>
<circle cx="388.69" cy="164.49" r="0.9" fill="#1c1c24" fill-opacity="0.92"/>
<circle cx="388.73" cy="160.46" r="0.9" fill="#1c1c24" fill-opacity="0.92"/>
<circle cx="386.36" cy="158.69" r="0.9" fill="#1c1c24" fill-opacity="0.92"/>
<circle cx="383.44" cy="160.93" r="0.9" fill="#1c1c24" fill-opacity="0.92"/>
<circle cx="382.99" cy="160.01" r="0.9" fill="#1c1c24" fill-opacity="0.92"/>
<circle cx="381.62" cy="162.39" r="0.9" fill="#1c1c24" fill-opacity="0.92"/>
<circle cx="383.66" cy="159.74" r="0.9" fill="#1c1c24" fill-opacity="0.92"/>
<circle cx="384.33" cy="163.43" r="0.9" fill="#1c1c24" fill-opacity="0.92"/>
<line x1="407.84" x2="407.84" y1="21.7" y2="35.5" stroke="#48484f" stroke-width="0.75"/>
<line x1="407.84" x2="407.84" y1="52.6" y2="71.9" stroke="#48484f" stroke-width="0.75"/>
<rect x="399.09" y="35.5" width="17.5" height="17.10" fill="#cdcdfc" stroke="#5a5a68" stroke-width="0.65"/>
<line x1="399.09" x2="416.59" y1="40.9" y2="40.9" stroke="#222228" stroke-width="1.15"/>
<circle cx="407.40" cy="21.70" r="0.9" fill="#1c1c24" fill-opacity="0.92"/>
<circle cx="407.00" cy="32.20" r="0.9" fill="#1c1c24" fill-opacity="0.92"/>
<circle cx="403.50" cy="36.00" r="0.9" fill="#1c1c24" fill-opacity="0.92"/>
<circle cx="406.00" cy="37.30" r="0.9" fill="#1c1c24" fill-opacity="0.92"/>
<circle cx="406.40" cy="44.60" r="0.9" fill="#1c1c24" fill-opacity="0.92"/>
<circle cx="411.20" cy="46.20" r="0.9" fill="#1c1c24" fill-opacity="0.92"/>
<circle cx="411.50" cy="54.50" r="0.9" fill="#1c1c24" fill-opacity="0.92"/>
<circle cx="406.40" cy="61.70" r="0.9" fill="#1c1c24" fill-opacity="0.92"/>
<circle cx="405.30" cy="72.30" r="0.9" fill="#1c1c24" fill-opacity="0.92"/>
<rect x="233.6" y="5.3" width="188.00" height="167.00" fill="none" stroke="#a4a4a4" stroke-width="1.4"/>
<line x1="231.70" x2="233.6" y1="165.20" y2="165.20" stroke="#666" stroke-width="0.9"/>
<line x1="231.70" x2="233.6" y1="127.02" y2="127.02" stroke="#666" stroke-width="0.9"/>
<line x1="231.70" x2="233.6" y1="88.85" y2="88.85" stroke="#666" stroke-width="0.9"/>
<line x1="231.70" x2="233.6" y1="50.67" y2="50.67" stroke="#666" stroke-width="0.9"/>
<line x1="231.70" x2="233.6" y1="12.50" y2="12.50" stroke="#666" stroke-width="0.9"/>
<line x1="247.36" x2="247.36" y1="172.3" y2="174.20" stroke="#666" stroke-width="0.9"/>
<text transform="translate(246.96,181.90) scale(0.89,1)" text-anchor="middle" class="xl">A</text>
<line x1="270.28" x2="270.28" y1="172.3" y2="174.20" stroke="#666" stroke-width="0.9"/>
<text transform="translate(269.88,181.90) scale(0.89,1)" text-anchor="middle" class="xl">K</text>
<line x1="293.21" x2="293.21" y1="172.3" y2="174.20" stroke="#666" stroke-width="0.9"/>
<text transform="translate(292.81,181.90) scale(0.89,1)" text-anchor="middle" class="xl">H</text>
<line x1="316.14" x2="316.14" y1="172.3" y2="174.20" stroke="#666" stroke-width="0.9"/>
<text transform="translate(315.74,181.90) scale(0.89,1)" text-anchor="middle" class="xl">S</text>
<line x1="339.06" x2="339.06" y1="172.3" y2="174.20" stroke="#666" stroke-width="0.9"/>
<text transform="translate(338.66,181.90) scale(0.89,1)" text-anchor="middle" class="xl">E</text>
<line x1="361.99" x2="361.99" y1="172.3" y2="174.20" stroke="#666" stroke-width="0.9"/>
<text transform="translate(361.59,181.90) scale(0.89,1)" text-anchor="middle" class="xl">W</text>
<line x1="384.92" x2="384.92" y1="172.3" y2="174.20" stroke="#666" stroke-width="0.9"/>
<text transform="translate(384.52,181.90) scale(0.89,1)" text-anchor="middle" class="xl">N</text>
<line x1="407.84" x2="407.84" y1="172.3" y2="174.20" stroke="#666" stroke-width="0.9"/>
<text transform="translate(407.44,181.90) scale(0.89,1)" text-anchor="middle" class="xl">CM-CP</text>
<text x="36.2" y="168.40" text-anchor="end" class="yl">0.0</text>
<text x="36.2" y="130.22" text-anchor="end" class="yl">0.5</text>
<text x="36.2" y="92.05" text-anchor="end" class="yl">1.0</text>
<text x="36.2" y="53.88" text-anchor="end" class="yl">1.5</text>
<text x="36.2" y="15.70" text-anchor="end" class="yl">2.0</text>
<line x1="39.5" x2="226.8" y1="327.40" y2="327.40" stroke="#f3f3f3" stroke-width="0.9"/>
<line x1="39.5" x2="226.8" y1="289.40" y2="289.40" stroke="#f3f3f3" stroke-width="0.9"/>
<line x1="39.5" x2="226.8" y1="251.40" y2="251.40" stroke="#f3f3f3" stroke-width="0.9"/>
<line x1="39.5" x2="226.8" y1="213.40" y2="213.40" stroke="#f3f3f3" stroke-width="0.9"/>
<line x1="39.5" x2="226.8" y1="346.40" y2="346.40" stroke="#f0f0f0" stroke-width="1"/>
<line x1="39.5" x2="226.8" y1="308.40" y2="308.40" stroke="#f0f0f0" stroke-width="1"/>
<line x1="39.5" x2="226.8" y1="270.40" y2="270.40" stroke="#f0f0f0" stroke-width="1"/>
<line x1="39.5" x2="226.8" y1="232.40" y2="232.40" stroke="#f0f0f0" stroke-width="1"/>
<line x1="39.5" x2="226.8" y1="194.40" y2="194.40" stroke="#f0f0f0" stroke-width="1"/>
<line x1="53.20" x2="53.20" y1="187.0" y2="354.0" stroke="#f0f0f0" stroke-width="1"/>
<line x1="76.05" x2="76.05" y1="187.0" y2="354.0" stroke="#f0f0f0" stroke-width="1"/>
<line x1="98.89" x2="98.89" y1="187.0" y2="354.0" stroke="#f0f0f0" stroke-width="1"/>
<line x1="121.73" x2="121.73" y1="187.0" y2="354.0" stroke="#f0f0f0" stroke-width="1"/>
<line x1="144.57" x2="144.57" y1="187.0" y2="354.0" stroke="#f0f0f0" stroke-width="1"/>
<line x1="167.41" x2="167.41" y1="187.0" y2="354.0" stroke="#f0f0f0" stroke-width="1"/>
<line x1="190.25" x2="190.25" y1="187.0" y2="354.0" stroke="#f0f0f0" stroke-width="1"/>
<line x1="213.10" x2="213.10" y1="187.0" y2="354.0" stroke="#f0f0f0" stroke-width="1"/>
<line x1="53.20" x2="53.20" y1="327.5" y2="333.5" stroke="#48484f" stroke-width="0.75"/>
<line x1="53.20" x2="53.20" y1="339.6" y2="344.0" stroke="#48484f" stroke-width="0.75"/>
<rect x="44.45" y="333.5" width="17.5" height="6.10" fill="#cdcdfc" stroke="#5a5a68" stroke-width="0.65"/>
<line x1="44.45" x2="61.95" y1="336.5" y2="336.5" stroke="#222228" stroke-width="1.15"/>
<circle cx="53.20" cy="324.0" r="1.15" fill="#1a1a1a"/>
<circle cx="52.09" cy="336.39" r="0.9" fill="#1c1c24" fill-opacity="0.92"/>
<circle cx="52.02" cy="330.68" r="0.9" fill="#1c1c24" fill-opacity="0.92"/>
<circle cx="52.42" cy="328.00" r="0.9" fill="#1c1c24" fill-opacity="0.92"/>
<circle cx="49.19" cy="340.15" r="0.9" fill="#1c1c24" fill-opacity="0.92"/>
<circle cx="56.88" cy="333.88" r="0.9" fill="#1c1c24" fill-opacity="0.92"/>
<circle cx="56.69" cy="338.06" r="0.9" fill="#1c1c24" fill-opacity="0.92"/>
<circle cx="57.21" cy="335.16" r="0.9" fill="#1c1c24" fill-opacity="0.92"/>
<circle cx="55.10" cy="331.83" r="0.9" fill="#1c1c24" fill-opacity="0.92"/>
<circle cx="48.86" cy="335.18" r="0.9" fill="#1c1c24" fill-opacity="0.92"/>
<circle cx="54.38" cy="342.62" r="0.9" fill="#1c1c24" fill-opacity="0.92"/>
<circle cx="50.88" cy="327.90" r="0.9" fill="#1c1c24" fill-opacity="0.92"/>
<circle cx="57.18" cy="339.34" r="0.9" fill="#1c1c24" fill-opacity="0.92"/>
<circle cx="52.59" cy="335.03" r="0.9" fill="#1c1c24" fill-opacity="0.92"/>
<circle cx="50.43" cy="339.16" r="0.9" fill="#1c1c24" fill-opacity="0.92"/>
<circle cx="56.03" cy="339.69" r="0.9" fill="#1c1c24" fill-opacity="0.92"/>
<circle cx="51.70" cy="337.52" r="0.9" fill="#1c1c24" fill-opacity="0.92"/>
<circle cx="55.67" cy="335.71" r="0.9" fill="#1c1c24" fill-opacity="0.92"/>
<circle cx="55.42" cy="334.70" r="0.9" fill="#1c1c24" fill-opacity="0.92"/>
<line x1="76.05" x2="76.05" y1="324.4" y2="332.9" stroke="#48484f" stroke-width="0.75"/>
<line x1="76.05" x2="76.05" y1="340.6" y2="345.0" stroke="#48484f" stroke-width="0.75"/>
<rect x="67.30" y="332.9" width="17.5" height="7.70" fill="#cdcdfc" stroke="#5a5a68" stroke-width="0.65"/>
<line x1="67.30" x2="84.80" y1="336.5" y2="336.5" stroke="#222228" stroke-width="1.15"/>
<circle cx="71.97" cy="333.40" r="0.9" fill="#1c1c24" fill-opacity="0.92"/>
<circle cx="80.25" cy="335.41" r="0.9" fill="#1c1c24" fill-opacity="0.92"/>
<circle cx="73.99" cy="344.75" r="0.9" fill="#1c1c24" fill-opacity="0.92"/>
<circle cx="76.03" cy="333.64" r="0.9" fill="#1c1c24" fill-opacity="0.92"/>
<circle cx="73.72" cy="333.61" r="0.9" fill="#1c1c24" fill-opacity="0.92"/>
<circle cx="77.57" cy="337.68" r="0.9" fill="#1c1c24" fill-opacity="0.92"/>
<circle cx="77.49" cy="341.85" r="0.9" fill="#1c1c24" fill-opacity="0.92"/>
<circle cx="74.24" cy="339.37" r="0.9" fill="#1c1c24" fill-opacity="0.92"/>
<circle cx="78.13" cy="335.77" r="0.9" fill="#1c1c24" fill-opacity="0.92"/>
<circle cx="73.82" cy="334.81" r="0.9" fill="#1c1c24" fill-opacity="0.92"/>
<circle cx="76.73" cy="339.71" r="0.9" fill="#1c1c24" fill-opacity="0.92"/>
<circle cx="80.36" cy="335.95" r="0.9" fill="#1c1c24" fill-opacity="0.92"/>
<circle cx="78.75" cy="334.68" r="0.9" fill="#1c1c24" fill-opacity="0.92"/>
<circle cx="72.57" cy="344.81" r="0.9" fill="#1c1c24" fill-opacity="0.92"/>
<circle cx="79.03" cy="339.21" r="0.9" fill="#1c1c24" fill-opacity="0.92"/>
<circle cx="74.24" cy="325.23" r="0.9" fill="#1c1c24" fill-opacity="0.92"/>
<circle cx="80.18" cy="334.36" r="0.9" fill="#1c1c24" fill-opacity="0.92"/>
<circle cx="74.93" cy="340.06" r="0.9" fill="#1c1c24" fill-opacity="0.92"/>
<line x1="98.89" x2="98.89" y1="336.0" y2="339.0" stroke="#48484f" stroke-width="0.75"/>
<line x1="98.89" x2="98.89" y1="342.0" y2="345.0" stroke="#48484f" stroke-width="0.75"/>
<rect x="90.14" y="339.0" width="17.5" height="3.00" fill="#cdcdfc" stroke="#5a5a68" stroke-width="0.65"/>
<line x1="90.14" x2="107.64" y1="340.5" y2="340.5" stroke="#222228" stroke-width="1.15"/>
<circle cx="98.89" cy="327.5" r="1.15" fill="#1a1a1a"/>
<circle cx="101.89" cy="327.5" r="0.9" fill="#1c1c24" fill-opacity="0.92"/>
<circle cx="96.79" cy="340.04" r="0.9" fill="#1c1c24" fill-opacity="0.92"/>
<circle cx="95.44" cy="344.51" r="0.9" fill="#1c1c24" fill-opacity="0.92"/>
<circle cx="96.42" cy="340.86" r="0.9" fill="#1c1c24" fill-opacity="0.92"/>
<circle cx="96.30" cy="339.42" r="0.9" fill="#1c1c24" fill-opacity="0.92"/>
<circle cx="100.21" cy="340.80" r="0.9" fill="#1c1c24" fill-opacity="0.92"/>
<circle cx="97.38" cy="339.03" r="0.9" fill="#1c1c24" fill-opacity="0.92"/>
<circle cx="97.24" cy="337.67" r="0.9" fill="#1c1c24" fill-opacity="0.92"/>
<circle cx="99.31" cy="341.39" r="0.9" fill="#1c1c24" fill-opacity="0.92"/>
<circle cx="97.97" cy="339.30" r="0.9" fill="#1c1c24" fill-opacity="0.92"/>
<circle cx="95.31" cy="340.92" r="0.9" fill="#1c1c24" fill-opacity="0.92"/>
<circle cx="98.10" cy="341.09" r="0.9" fill="#1c1c24" fill-opacity="0.92"/>
<circle cx="102.85" cy="339.92" r="0.9" fill="#1c1c24" fill-opacity="0.92"/>
<circle cx="97.64" cy="340.70" r="0.9" fill="#1c1c24" fill-opacity="0.92"/>
<circle cx="103.23" cy="341.59" r="0.9" fill="#1c1c24" fill-opacity="0.92"/>
<circle cx="100.88" cy="339.59" r="0.9" fill="#1c1c24" fill-opacity="0.92"/>
<circle cx="102.40" cy="339.02" r="0.9" fill="#1c1c24" fill-opacity="0.92"/>
<circle cx="98.07" cy="341.46" r="0.9" fill="#1c1c24" fill-opacity="0.92"/>
<circle cx="95.94" cy="340.15" r="0.9" fill="#1c1c24" fill-opacity="0.92"/>
<line x1="121.73" x2="121.73" y1="328.5" y2="334.5" stroke="#48484f" stroke-width="0.75"/>
<line x1="121.73" x2="121.73" y1="339.6" y2="344.0" stroke="#48484f" stroke-width="0.75"/>
<rect x="112.98" y="334.5" width="17.5" height="5.10" fill="#cdcdfc" stroke="#5a5a68" stroke-width="0.65"/>
<line x1="112.98" x2="130.48" y1="337.0" y2="337.0" stroke="#222228" stroke-width="1.15"/>
<circle cx="122.96" cy="337.31" r="0.9" fill="#1c1c24" fill-opacity="0.92"/>
<circle cx="122.80" cy="329.88" r="0.9" fill="#1c1c24" fill-opacity="0.92"/>
<circle cx="118.63" cy="337.07" r="0.9" fill="#1c1c24" fill-opacity="0.92"/>
<circle cx="125.45" cy="337.16" r="0.9" fill="#1c1c24" fill-opacity="0.92"/>
<circle cx="124.40" cy="337.00" r="0.9" fill="#1c1c24" fill-opacity="0.92"/>
<circle cx="118.46" cy="331.56" r="0.9" fill="#1c1c24" fill-opacity="0.92"/>
<circle cx="121.58" cy="343.62" r="0.9" fill="#1c1c24" fill-opacity="0.92"/>
<circle cx="120.75" cy="339.22" r="0.9" fill="#1c1c24" fill-opacity="0.92"/>
<circle cx="124.57" cy="338.12" r="0.9" fill="#1c1c24" fill-opacity="0.92"/>
<circle cx="119.30" cy="338.51" r="0.9" fill="#1c1c24" fill-opacity="0.92"/>
<circle cx="124.61" cy="338.82" r="0.9" fill="#1c1c24" fill-opacity="0.92"/>
<circle cx="120.85" cy="335.61" r="0.9" fill="#1c1c24" fill-opacity="0.92"/>
<circle cx="118.43" cy="336.46" r="0.9" fill="#1c1c24" fill-opacity="0.92"/>
<circle cx="125.21" cy="338.20" r="0.9" fill="#1c1c24" fill-opacity="0.92"/>
<circle cx="123.98" cy="337.37" r="0.9" fill="#1c1c24" fill-opacity="0.92"/>
<circle cx="118.38" cy="338.77" r="0.9" fill="#1c1c24" fill-opacity="0.92"/>
<circle cx="122.84" cy="337.31" r="0.9" fill="#1c1c24" fill-opacity="0.92"/>
<circle cx="122.45" cy="336.64" r="0.9" fill="#1c1c24" fill-opacity="0.92"/>
<line x1="144.57" x2="144.57" y1="302.7" y2="319.8" stroke="#48484f" stroke-width="0.75"/>
<line x1="144.57" x2="144.57" y1="339.6" y2="344.6" stroke="#48484f" stroke-width="0.75"/>
<rect x="135.82" y="319.8" width="17.5" height="19.80" fill="#cdcdfc" stroke="#5a5a68" stroke-width="0.65"/>
<line x1="135.82" x2="153.32" y1="330.9" y2="330.9" stroke="#222228" stroke-width="1.15"/>
<circle cx="148.60" cy="302.70" r="0.9" fill="#1c1c24" fill-opacity="0.92"/>
<circle cx="140.50" cy="324.40" r="0.9" fill="#1c1c24" fill-opacity="0.92"/>
<circle cx="147.40" cy="326.20" r="0.9" fill="#1c1c24" fill-opacity="0.92"/>
<circle cx="140.90" cy="328.90" r="0.9" fill="#1c1c24" fill-opacity="0.92"/>
<circle cx="149.00" cy="320.10" r="0.9" fill="#1c1c24" fill-opacity="0.92"/>
<circle cx="148.50" cy="330.80" r="0.9" fill="#1c1c24" fill-opacity="0.92"/>
<circle cx="142.70" cy="332.50" r="0.9" fill="#1c1c24" fill-opacity="0.92"/>
<circle cx="143.00" cy="336.20" r="0.9" fill="#1c1c24" fill-opacity="0.92"/>
<circle cx="147.00" cy="336.20" r="0.9" fill="#1c1c24" fill-opacity="0.92"/>
<circle cx="148.10" cy="339.20" r="0.9" fill="#1c1c24" fill-opacity="0.92"/>
<circle cx="140.00" cy="319.50" r="0.9" fill="#1c1c24" fill-opacity="0.92"/>
<circle cx="143.60" cy="317.10" r="0.9" fill="#1c1c24" fill-opacity="0.92"/>
<circle cx="145.10" cy="317.10" r="0.9" fill="#1c1c24" fill-opacity="0.92"/>
<circle cx="142.00" cy="343.00" r="0.9" fill="#1c1c24" fill-opacity="0.92"/>
<circle cx="143.50" cy="345.00" r="0.9" fill="#1c1c24" fill-opacity="0.92"/>
<line x1="167.41" x2="167.41" y1="330.0" y2="335.5" stroke="#48484f" stroke-width="0.75"/>
<line x1="167.41" x2="167.41" y1="339.6" y2="345.0" stroke="#48484f" stroke-width="0.75"/>
<rect x="158.66" y="335.5" width="17.5" height="4.10" fill="#cdcdfc" stroke="#5a5a68" stroke-width="0.65"/>
<line x1="158.66" x2="176.16" y1="337.5" y2="337.5" stroke="#222228" stroke-width="1.15"/>
<circle cx="167.41" cy="317.0" r="1.15" fill="#1a1a1a"/>
<circle cx="170.91" cy="317.0" r="0.9" fill="#1c1c24" fill-opacity="0.92"/>
<circle cx="166.41" cy="328.0" r="1.15" fill="#1a1a1a"/>
<circle cx="169.41" cy="328.0" r="0.9" fill="#1c1c24" fill-opacity="0.92"/>
<circle cx="166.95" cy="338.20" r="0.9" fill="#1c1c24" fill-opacity="0.92"/>
<circle cx="168.45" cy="335.60" r="0.9" fill="#1c1c24" fill-opacity="0.92"/>
<circle cx="169.72" cy="336.46" r="0.9" fill="#1c1c24" fill-opacity="0.92"/>
<circle cx="164.61" cy="336.87" r="0.9" fill="#1c1c24" fill-opacity="0.92"/>
<circle cx="164.16" cy="335.94" r="0.9" fill="#1c1c24" fill-opacity="0.92"/>
<circle cx="166.90" cy="335.88" r="0.9" fill="#1c1c24" fill-opacity="0.92"/>
<circle cx="168.61" cy="335.67" r="0.9" fill="#1c1c24" fill-opacity="0.92"/>
<circle cx="169.84" cy="338.51" r="0.9" fill="#1c1c24" fill-opacity="0.92"/>
<circle cx="167.45" cy="335.72" r="0.9" fill="#1c1c24" fill-opacity="0.92"/>
<circle cx="164.23" cy="339.40" r="0.9" fill="#1c1c24" fill-opacity="0.92"/>
<circle cx="169.44" cy="344.94" r="0.9" fill="#1c1c24" fill-opacity="0.92"/>
<circle cx="171.63" cy="332.91" r="0.9" fill="#1c1c24" fill-opacity="0.92"/>
<circle cx="171.05" cy="339.42" r="0.9" fill="#1c1c24" fill-opacity="0.92"/>
<circle cx="171.18" cy="338.73" r="0.9" fill="#1c1c24" fill-opacity="0.92"/>
<circle cx="169.65" cy="336.94" r="0.9" fill="#1c1c24" fill-opacity="0.92"/>
<circle cx="165.44" cy="339.18" r="0.9" fill="#1c1c24" fill-opacity="0.92"/>
<circle cx="167.43" cy="332.15" r="0.9" fill="#1c1c24" fill-opacity="0.92"/>
<circle cx="165.34" cy="333.12" r="0.9" fill="#1c1c24" fill-opacity="0.92"/>
<line x1="190.25" x2="190.25" y1="335.0" y2="337.5" stroke="#48484f" stroke-width="0.75"/>
<line x1="190.25" x2="190.25" y1="342.0" y2="344.0" stroke="#48484f" stroke-width="0.75"/>
<rect x="181.50" y="337.5" width="17.5" height="4.50" fill="#cdcdfc" stroke="#5a5a68" stroke-width="0.65"/>
<line x1="181.50" x2="199.00" y1="339.5" y2="339.5" stroke="#222228" stroke-width="1.15"/>
<circle cx="186.20" cy="338.94" r="0.9" fill="#1c1c24" fill-opacity="0.92"/>
<circle cx="194.07" cy="338.23" r="0.9" fill="#1c1c24" fill-opacity="0.92"/>
<circle cx="187.36" cy="343.06" r="0.9" fill="#1c1c24" fill-opacity="0.92"/>
<circle cx="190.52" cy="336.04" r="0.9" fill="#1c1c24" fill-opacity="0.92"/>
<circle cx="193.52" cy="338.24" r="0.9" fill="#1c1c24" fill-opacity="0.92"/>
<circle cx="193.60" cy="340.11" r="0.9" fill="#1c1c24" fill-opacity="0.92"/>
<circle cx="191.39" cy="341.97" r="0.9" fill="#1c1c24" fill-opacity="0.92"/>
<circle cx="188.20" cy="341.09" r="0.9" fill="#1c1c24" fill-opacity="0.92"/>
<circle cx="189.03" cy="340.20" r="0.9" fill="#1c1c24" fill-opacity="0.92"/>
<circle cx="187.43" cy="338.98" r="0.9" fill="#1c1c24" fill-opacity="0.92"/>
<circle cx="193.05" cy="335.43" r="0.9" fill="#1c1c24" fill-opacity="0.92"/>
<circle cx="194.49" cy="340.38" r="0.9" fill="#1c1c24" fill-opacity="0.92"/>
<circle cx="188.61" cy="340.49" r="0.9" fill="#1c1c24" fill-opacity="0.92"/>
<circle cx="187.19" cy="337.65" r="0.9" fill="#1c1c24" fill-opacity="0.92"/>
<circle cx="190.36" cy="338.89" r="0.9" fill="#1c1c24" fill-opacity="0.92"/>
<circle cx="187.87" cy="336.19" r="0.9" fill="#1c1c24" fill-opacity="0.92"/>
<circle cx="185.90" cy="335.20" r="0.9" fill="#1c1c24" fill-opacity="0.92"/>
<circle cx="189.00" cy="337.98" r="0.9" fill="#1c1c24" fill-opacity="0.92"/>
<line x1="213.10" x2="213.10" y1="199.5" y2="208.3" stroke="#48484f" stroke-width="0.75"/>
<line x1="213.10" x2="213.10" y1="227.2" y2="251.9" stroke="#48484f" stroke-width="0.75"/>
<rect x="204.35" y="208.3" width="17.5" height="18.90" fill="#cdcdfc" stroke="#5a5a68" stroke-width="0.65"/>
<line x1="204.35" x2="221.85" y1="214.4" y2="214.4" stroke="#222228" stroke-width="1.15"/>
<circle cx="212.70" cy="199.50" r="0.9" fill="#1c1c24" fill-opacity="0.92"/>
<circle cx="213.70" cy="203.20" r="0.9" fill="#1c1c24" fill-opacity="0.92"/>
<circle cx="210.80" cy="207.50" r="0.9" fill="#1c1c24" fill-opacity="0.92"/>
<circle cx="209.80" cy="214.40" r="0.9" fill="#1c1c24" fill-opacity="0.92"/>
<circle cx="213.70" cy="213.70" r="0.9" fill="#1c1c24" fill-opacity="0.92"/>
<circle cx="217.10" cy="225.00" r="0.9" fill="#1c1c24" fill-opacity="0.92"/>
<circle cx="211.30" cy="227.90" r="0.9" fill="#1c1c24" fill-opacity="0.92"/>
<circle cx="211.30" cy="240.30" r="0.9" fill="#1c1c24" fill-opacity="0.92"/>
<circle cx="213.70" cy="251.90" r="0.9" fill="#1c1c24" fill-opacity="0.92"/>
<rect x="39.5" y="187.0" width="187.30" height="167.00" fill="none" stroke="#a4a4a4" stroke-width="1.4"/>
<line x1="37.60" x2="39.5" y1="346.40" y2="346.40" stroke="#666" stroke-width="0.9"/>
<line x1="37.60" x2="39.5" y1="308.40" y2="308.40" stroke="#666" stroke-width="0.9"/>
<line x1="37.60" x2="39.5" y1="270.40" y2="270.40" stroke="#666" stroke-width="0.9"/>
<line x1="37.60" x2="39.5" y1="232.40" y2="232.40" stroke="#666" stroke-width="0.9"/>
<line x1="37.60" x2="39.5" y1="194.40" y2="194.40" stroke="#666" stroke-width="0.9"/>
<line x1="53.20" x2="53.20" y1="354.0" y2="355.90" stroke="#666" stroke-width="0.9"/>
<text transform="translate(52.80,363.60) scale(0.89,1)" text-anchor="middle" class="xl">W</text>
<line x1="76.05" x2="76.05" y1="354.0" y2="355.90" stroke="#666" stroke-width="0.9"/>
<text transform="translate(75.65,363.60) scale(0.89,1)" text-anchor="middle" class="xl">E</text>
<line x1="98.89" x2="98.89" y1="354.0" y2="355.90" stroke="#666" stroke-width="0.9"/>
<text transform="translate(98.49,363.60) scale(0.89,1)" text-anchor="middle" class="xl">S</text>
<line x1="121.73" x2="121.73" y1="354.0" y2="355.90" stroke="#666" stroke-width="0.9"/>
<text transform="translate(121.33,363.60) scale(0.89,1)" text-anchor="middle" class="xl">H</text>
<line x1="144.57" x2="144.57" y1="354.0" y2="355.90" stroke="#666" stroke-width="0.9"/>
<text transform="translate(144.17,363.60) scale(0.89,1)" text-anchor="middle" class="xl">K</text>
<line x1="167.41" x2="167.41" y1="354.0" y2="355.90" stroke="#666" stroke-width="0.9"/>
<text transform="translate(167.01,363.60) scale(0.89,1)" text-anchor="middle" class="xl">A</text>
<line x1="190.25" x2="190.25" y1="354.0" y2="355.90" stroke="#666" stroke-width="0.9"/>
<text transform="translate(189.85,363.60) scale(0.89,1)" text-anchor="middle" class="xl">N</text>
<line x1="213.10" x2="213.10" y1="354.0" y2="355.90" stroke="#666" stroke-width="0.9"/>
<text transform="translate(212.70,363.60) scale(0.89,1)" text-anchor="middle" class="xl">CM-CP</text>
<line x1="233.5" x2="420.9" y1="327.40" y2="327.40" stroke="#f3f3f3" stroke-width="0.9"/>
<line x1="233.5" x2="420.9" y1="289.40" y2="289.40" stroke="#f3f3f3" stroke-width="0.9"/>
<line x1="233.5" x2="420.9" y1="251.40" y2="251.40" stroke="#f3f3f3" stroke-width="0.9"/>
<line x1="233.5" x2="420.9" y1="213.40" y2="213.40" stroke="#f3f3f3" stroke-width="0.9"/>
<line x1="233.5" x2="420.9" y1="346.40" y2="346.40" stroke="#f0f0f0" stroke-width="1"/>
<line x1="233.5" x2="420.9" y1="308.40" y2="308.40" stroke="#f0f0f0" stroke-width="1"/>
<line x1="233.5" x2="420.9" y1="270.40" y2="270.40" stroke="#f0f0f0" stroke-width="1"/>
<line x1="233.5" x2="420.9" y1="232.40" y2="232.40" stroke="#f0f0f0" stroke-width="1"/>
<line x1="233.5" x2="420.9" y1="194.40" y2="194.40" stroke="#f0f0f0" stroke-width="1"/>
<line x1="247.21" x2="247.21" y1="187.0" y2="354.0" stroke="#f0f0f0" stroke-width="1"/>
<line x1="270.07" x2="270.07" y1="187.0" y2="354.0" stroke="#f0f0f0" stroke-width="1"/>
<line x1="292.92" x2="292.92" y1="187.0" y2="354.0" stroke="#f0f0f0" stroke-width="1"/>
<line x1="315.77" x2="315.77" y1="187.0" y2="354.0" stroke="#f0f0f0" stroke-width="1"/>
<line x1="338.63" x2="338.63" y1="187.0" y2="354.0" stroke="#f0f0f0" stroke-width="1"/>
<line x1="361.48" x2="361.48" y1="187.0" y2="354.0" stroke="#f0f0f0" stroke-width="1"/>
<line x1="384.33" x2="384.33" y1="187.0" y2="354.0" stroke="#f0f0f0" stroke-width="1"/>
<line x1="407.19" x2="407.19" y1="187.0" y2="354.0" stroke="#f0f0f0" stroke-width="1"/>
<line x1="247.21" x2="247.21" y1="319.0" y2="330.9" stroke="#48484f" stroke-width="0.75"/>
<line x1="247.21" x2="247.21" y1="340.6" y2="344.0" stroke="#48484f" stroke-width="0.75"/>
<rect x="238.46" y="330.9" width="17.5" height="9.70" fill="#cdcdfc" stroke="#5a5a68" stroke-width="0.65"/>
<line x1="238.46" x2="255.96" y1="334.9" y2="334.9" stroke="#222228" stroke-width="1.15"/>
<circle cx="247.99" cy="336.56" r="0.9" fill="#1c1c24" fill-opacity="0.92"/>
<circle cx="246.99" cy="336.95" r="0.9" fill="#1c1c24" fill-opacity="0.92"/>
<circle cx="244.97" cy="339.98" r="0.9" fill="#1c1c24" fill-opacity="0.92"/>
<circle cx="248.42" cy="331.83" r="0.9" fill="#1c1c24" fill-opacity="0.92"/>
<circle cx="246.35" cy="338.55" r="0.9" fill="#1c1c24" fill-opacity="0.92"/>
<circle cx="248.48" cy="331.01" r="0.9" fill="#1c1c24" fill-opacity="0.92"/>
<circle cx="248.49" cy="334.30" r="0.9" fill="#1c1c24" fill-opacity="0.92"/>
<circle cx="249.26" cy="339.99" r="0.9" fill="#1c1c24" fill-opacity="0.92"/>
<circle cx="243.22" cy="339.66" r="0.9" fill="#1c1c24" fill-opacity="0.92"/>
<circle cx="244.92" cy="334.84" r="0.9" fill="#1c1c24" fill-opacity="0.92"/>
<circle cx="242.95" cy="338.46" r="0.9" fill="#1c1c24" fill-opacity="0.92"/>
<circle cx="244.08" cy="340.03" r="0.9" fill="#1c1c24" fill-opacity="0.92"/>
<circle cx="247.27" cy="336.80" r="0.9" fill="#1c1c24" fill-opacity="0.92"/>
<circle cx="244.37" cy="339.33" r="0.9" fill="#1c1c24" fill-opacity="0.92"/>
<circle cx="243.26" cy="333.81" r="0.9" fill="#1c1c24" fill-opacity="0.92"/>
<circle cx="249.10" cy="338.57" r="0.9" fill="#1c1c24" fill-opacity="0.92"/>
<circle cx="249.36" cy="339.09" r="0.9" fill="#1c1c24" fill-opacity="0.92"/>
<circle cx="246.80" cy="338.10" r="0.9" fill="#1c1c24" fill-opacity="0.92"/>
<line x1="270.07" x2="270.07" y1="320.4" y2="330.0" stroke="#48484f" stroke-width="0.75"/>
<line x1="270.07" x2="270.07" y1="337.0" y2="341.6" stroke="#48484f" stroke-width="0.75"/>
<rect x="261.32" y="330.0" width="17.5" height="7.00" fill="#cdcdfc" stroke="#5a5a68" stroke-width="0.65"/>
<line x1="261.32" x2="278.82" y1="332.9" y2="332.9" stroke="#222228" stroke-width="1.15"/>
<circle cx="267.72" cy="330.74" r="0.9" fill="#1c1c24" fill-opacity="0.92"/>
<circle cx="272.25" cy="332.35" r="0.9" fill="#1c1c24" fill-opacity="0.92"/>
<circle cx="271.92" cy="338.32" r="0.9" fill="#1c1c24" fill-opacity="0.92"/>
<circle cx="269.51" cy="333.88" r="0.9" fill="#1c1c24" fill-opacity="0.92"/>
<circle cx="268.01" cy="331.49" r="0.9" fill="#1c1c24" fill-opacity="0.92"/>
<circle cx="267.59" cy="340.86" r="0.9" fill="#1c1c24" fill-opacity="0.92"/>
<circle cx="267.97" cy="320.72" r="0.9" fill="#1c1c24" fill-opacity="0.92"/>
<circle cx="273.96" cy="335.21" r="0.9" fill="#1c1c24" fill-opacity="0.92"/>
<circle cx="273.39" cy="327.33" r="0.9" fill="#1c1c24" fill-opacity="0.92"/>
<circle cx="273.63" cy="331.67" r="0.9" fill="#1c1c24" fill-opacity="0.92"/>
<circle cx="271.51" cy="335.09" r="0.9" fill="#1c1c24" fill-opacity="0.92"/>
<circle cx="273.04" cy="330.35" r="0.9" fill="#1c1c24" fill-opacity="0.92"/>
<circle cx="269.52" cy="338.58" r="0.9" fill="#1c1c24" fill-opacity="0.92"/>
<circle cx="268.38" cy="332.49" r="0.9" fill="#1c1c24" fill-opacity="0.92"/>
<circle cx="266.37" cy="334.36" r="0.9" fill="#1c1c24" fill-opacity="0.92"/>
<circle cx="265.93" cy="323.47" r="0.9" fill="#1c1c24" fill-opacity="0.92"/>
<circle cx="268.71" cy="336.50" r="0.9" fill="#1c1c24" fill-opacity="0.92"/>
<circle cx="266.06" cy="330.20" r="0.9" fill="#1c1c24" fill-opacity="0.92"/>
<line x1="292.92" x2="292.92" y1="329.5" y2="334.9" stroke="#48484f" stroke-width="0.75"/>
<line x1="292.92" x2="292.92" y1="340.6" y2="343.0" stroke="#48484f" stroke-width="0.75"/>
<rect x="284.17" y="334.9" width="17.5" height="5.70" fill="#cdcdfc" stroke="#5a5a68" stroke-width="0.65"/>
<line x1="284.17" x2="301.67" y1="338.0" y2="338.0" stroke="#222228" stroke-width="1.15"/>
<circle cx="294.64" cy="338.06" r="0.9" fill="#1c1c24" fill-opacity="0.92"/>
<circle cx="293.71" cy="330.39" r="0.9" fill="#1c1c24" fill-opacity="0.92"/>
<circle cx="295.72" cy="339.56" r="0.9" fill="#1c1c24" fill-opacity="0.92"/>
<circle cx="296.14" cy="330.39" r="0.9" fill="#1c1c24" fill-opacity="0.92"/>
<circle cx="289.48" cy="342.25" r="0.9" fill="#1c1c24" fill-opacity="0.92"/>
<circle cx="288.85" cy="335.54" r="0.9" fill="#1c1c24" fill-opacity="0.92"/>
<circle cx="294.09" cy="340.46" r="0.9" fill="#1c1c24" fill-opacity="0.92"/>
<circle cx="291.06" cy="338.03" r="0.9" fill="#1c1c24" fill-opacity="0.92"/>
<circle cx="295.17" cy="335.46" r="0.9" fill="#1c1c24" fill-opacity="0.92"/>
<circle cx="292.25" cy="336.72" r="0.9" fill="#1c1c24" fill-opacity="0.92"/>
<circle cx="291.02" cy="336.36" r="0.9" fill="#1c1c24" fill-opacity="0.92"/>
<circle cx="291.35" cy="334.47" r="0.9" fill="#1c1c24" fill-opacity="0.92"/>
<circle cx="295.99" cy="336.30" r="0.9" fill="#1c1c24" fill-opacity="0.92"/>
<circle cx="292.16" cy="329.92" r="0.9" fill="#1c1c24" fill-opacity="0.92"/>
<circle cx="291.58" cy="339.31" r="0.9" fill="#1c1c24" fill-opacity="0.92"/>
<circle cx="290.44" cy="336.76" r="0.9" fill="#1c1c24" fill-opacity="0.92"/>
<circle cx="295.72" cy="330.73" r="0.9" fill="#1c1c24" fill-opacity="0.92"/>
<circle cx="290.31" cy="334.91" r="0.9" fill="#1c1c24" fill-opacity="0.92"/>
<line x1="315.77" x2="315.77" y1="335.0" y2="338.1" stroke="#48484f" stroke-width="0.75"/>
<line x1="315.77" x2="315.77" y1="343.6" y2="346.0" stroke="#48484f" stroke-width="0.75"/>
<rect x="307.02" y="338.1" width="17.5" height="5.50" fill="#cdcdfc" stroke="#5a5a68" stroke-width="0.65"/>
<line x1="307.02" x2="324.52" y1="340.6" y2="340.6" stroke="#222228" stroke-width="1.15"/>
<circle cx="315.77" cy="323.0" r="1.15" fill="#1a1a1a"/>
<circle cx="314.77" cy="329.9" r="1.15" fill="#1a1a1a"/>
<circle cx="317.77" cy="329.9" r="0.9" fill="#1c1c24" fill-opacity="0.92"/>
<circle cx="311.44" cy="345.76" r="0.9" fill="#1c1c24" fill-opacity="0.92"/>
<circle cx="318.37" cy="340.80" r="0.9" fill="#1c1c24" fill-opacity="0.92"/>
<circle cx="314.44" cy="340.82" r="0.9" fill="#1c1c24" fill-opacity="0.92"/>
<circle cx="319.66" cy="337.87" r="0.9" fill="#1c1c24" fill-opacity="0.92"/>
<circle cx="317.52" cy="339.28" r="0.9" fill="#1c1c24" fill-opacity="0.92"/>
<circle cx="316.97" cy="338.70" r="0.9" fill="#1c1c24" fill-opacity="0.92"/>
<circle cx="317.50" cy="342.43" r="0.9" fill="#1c1c24" fill-opacity="0.92"/>
<circle cx="314.51" cy="341.91" r="0.9" fill="#1c1c24" fill-opacity="0.92"/>
<circle cx="319.19" cy="340.27" r="0.9" fill="#1c1c24" fill-opacity="0.92"/>
<circle cx="311.62" cy="342.99" r="0.9" fill="#1c1c24" fill-opacity="0.92"/>
<circle cx="319.28" cy="339.55" r="0.9" fill="#1c1c24" fill-opacity="0.92"/>
<circle cx="319.13" cy="340.19" r="0.9" fill="#1c1c24" fill-opacity="0.92"/>
<circle cx="316.05" cy="340.63" r="0.9" fill="#1c1c24" fill-opacity="0.92"/>
<circle cx="317.05" cy="343.28" r="0.9" fill="#1c1c24" fill-opacity="0.92"/>
<circle cx="312.76" cy="339.90" r="0.9" fill="#1c1c24" fill-opacity="0.92"/>
<circle cx="317.89" cy="342.28" r="0.9" fill="#1c1c24" fill-opacity="0.92"/>
<circle cx="318.17" cy="340.51" r="0.9" fill="#1c1c24" fill-opacity="0.92"/>
<circle cx="315.44" cy="338.79" r="0.9" fill="#1c1c24" fill-opacity="0.92"/>
<line x1="338.63" x2="338.63" y1="305.1" y2="308.7" stroke="#48484f" stroke-width="0.75"/>
<line x1="338.63" x2="338.63" y1="320.4" y2="323.6" stroke="#48484f" stroke-width="0.75"/>
<rect x="329.88" y="308.7" width="17.5" height="11.70" fill="#cdcdfc" stroke="#5a5a68" stroke-width="0.65"/>
<line x1="329.88" x2="347.38" y1="315.1" y2="315.1" stroke="#222228" stroke-width="1.15"/>
<circle cx="335.30" cy="306.00" r="0.9" fill="#1c1c24" fill-opacity="0.92"/>
<circle cx="335.80" cy="307.40" r="0.9" fill="#1c1c24" fill-opacity="0.92"/>
<circle cx="339.10" cy="306.50" r="0.9" fill="#1c1c24" fill-opacity="0.92"/>
<circle cx="342.30" cy="305.20" r="0.9" fill="#1c1c24" fill-opacity="0.92"/>
<circle cx="341.30" cy="307.40" r="0.9" fill="#1c1c24" fill-opacity="0.92"/>
<circle cx="335.00" cy="309.00" r="0.9" fill="#1c1c24" fill-opacity="0.92"/>
<circle cx="336.60" cy="313.10" r="0.9" fill="#1c1c24" fill-opacity="0.92"/>
<circle cx="337.20" cy="315.30" r="0.9" fill="#1c1c24" fill-opacity="0.92"/>
<circle cx="339.40" cy="318.80" r="0.9" fill="#1c1c24" fill-opacity="0.92"/>
<circle cx="342.10" cy="318.50" r="0.9" fill="#1c1c24" fill-opacity="0.92"/>
<circle cx="339.10" cy="321.80" r="0.9" fill="#1c1c24" fill-opacity="0.92"/>
<circle cx="338.30" cy="323.40" r="0.9" fill="#1c1c24" fill-opacity="0.92"/>
<circle cx="343.40" cy="323.20" r="0.9" fill="#1c1c24" fill-opacity="0.92"/>
<line x1="361.48" x2="361.48" y1="328.9" y2="335.6" stroke="#48484f" stroke-width="0.75"/>
<line x1="361.48" x2="361.48" y1="340.5" y2="344.7" stroke="#48484f" stroke-width="0.75"/>
<rect x="352.73" y="335.6" width="17.5" height="4.90" fill="#cdcdfc" stroke="#5a5a68" stroke-width="0.65"/>
<line x1="352.73" x2="370.23" y1="338.4" y2="338.4" stroke="#222228" stroke-width="1.15"/>
<circle cx="360.98" cy="313.0" r="1.15" fill="#1a1a1a"/>
<circle cx="364.48" cy="313.0" r="0.9" fill="#1c1c24" fill-opacity="0.92"/>
<circle cx="360.48" cy="323.6" r="1.15" fill="#1a1a1a"/>
<circle cx="362.48" cy="323.6" r="1.15" fill="#1a1a1a"/>
<circle cx="358.78" cy="332.66" r="0.9" fill="#1c1c24" fill-opacity="0.92"/>
<circle cx="364.49" cy="339.05" r="0.9" fill="#1c1c24" fill-opacity="0.92"/>
<circle cx="359.27" cy="336.36" r="0.9" fill="#1c1c24" fill-opacity="0.92"/>
<circle cx="358.51" cy="338.16" r="0.9" fill="#1c1c24" fill-opacity="0.92"/>
<circle cx="365.64" cy="336.53" r="0.9" fill="#1c1c24" fill-opacity="0.92"/>
<circle cx="365.53" cy="330.51" r="0.9" fill="#1c1c24" fill-opacity="0.92"/>
<circle cx="365.71" cy="337.48" r="0.9" fill="#1c1c24" fill-opacity="0.92"/>
<circle cx="360.91" cy="340.49" r="0.9" fill="#1c1c24" fill-opacity="0.92"/>
<circle cx="358.04" cy="338.73" r="0.9" fill="#1c1c24" fill-opacity="0.92"/>
<circle cx="357.40" cy="337.50" r="0.9" fill="#1c1c24" fill-opacity="0.92"/>
<circle cx="363.17" cy="339.48" r="0.9" fill="#1c1c24" fill-opacity="0.92"/>
<circle cx="361.16" cy="338.70" r="0.9" fill="#1c1c24" fill-opacity="0.92"/>
<circle cx="360.65" cy="338.56" r="0.9" fill="#1c1c24" fill-opacity="0.92"/>
<circle cx="360.87" cy="343.25" r="0.9" fill="#1c1c24" fill-opacity="0.92"/>
<circle cx="360.79" cy="339.27" r="0.9" fill="#1c1c24" fill-opacity="0.92"/>
<circle cx="364.81" cy="339.14" r="0.9" fill="#1c1c24" fill-opacity="0.92"/>
<circle cx="364.56" cy="339.96" r="0.9" fill="#1c1c24" fill-opacity="0.92"/>
<circle cx="361.08" cy="339.04" r="0.9" fill="#1c1c24" fill-opacity="0.92"/>
<line x1="384.33" x2="384.33" y1="338.0" y2="339.5" stroke="#48484f" stroke-width="0.75"/>
<line x1="384.33" x2="384.33" y1="342.4" y2="344.0" stroke="#48484f" stroke-width="0.75"/>
<rect x="375.58" y="339.5" width="17.5" height="2.90" fill="#cdcdfc" stroke="#5a5a68" stroke-width="0.65"/>
<line x1="375.58" x2="393.08" y1="339.8" y2="339.8" stroke="#222228" stroke-width="1.15"/>
<circle cx="380.82" cy="341.32" r="0.9" fill="#1c1c24" fill-opacity="0.92"/>
<circle cx="386.20" cy="341.77" r="0.9" fill="#1c1c24" fill-opacity="0.92"/>
<circle cx="383.67" cy="339.50" r="0.9" fill="#1c1c24" fill-opacity="0.92"/>
<circle cx="383.54" cy="341.30" r="0.9" fill="#1c1c24" fill-opacity="0.92"/>
<circle cx="381.56" cy="343.58" r="0.9" fill="#1c1c24" fill-opacity="0.92"/>
<circle cx="383.36" cy="342.67" r="0.9" fill="#1c1c24" fill-opacity="0.92"/>
<circle cx="380.29" cy="342.33" r="0.9" fill="#1c1c24" fill-opacity="0.92"/>
<circle cx="386.80" cy="339.97" r="0.9" fill="#1c1c24" fill-opacity="0.92"/>
<circle cx="380.84" cy="341.12" r="0.9" fill="#1c1c24" fill-opacity="0.92"/>
<circle cx="386.24" cy="341.07" r="0.9" fill="#1c1c24" fill-opacity="0.92"/>
<circle cx="387.21" cy="341.35" r="0.9" fill="#1c1c24" fill-opacity="0.92"/>
<circle cx="388.25" cy="340.69" r="0.9" fill="#1c1c24" fill-opacity="0.92"/>
<circle cx="383.39" cy="341.48" r="0.9" fill="#1c1c24" fill-opacity="0.92"/>
<circle cx="388.57" cy="338.73" r="0.9" fill="#1c1c24" fill-opacity="0.92"/>
<circle cx="382.36" cy="339.66" r="0.9" fill="#1c1c24" fill-opacity="0.92"/>
<circle cx="383.62" cy="339.54" r="0.9" fill="#1c1c24" fill-opacity="0.92"/>
<circle cx="383.04" cy="341.52" r="0.9" fill="#1c1c24" fill-opacity="0.92"/>
<circle cx="386.45" cy="340.15" r="0.9" fill="#1c1c24" fill-opacity="0.92"/>
<line x1="407.19" x2="407.19" y1="211.9" y2="219.5" stroke="#48484f" stroke-width="0.75"/>
<line x1="407.19" x2="407.19" y1="229.4" y2="232.0" stroke="#48484f" stroke-width="0.75"/>
<rect x="398.44" y="219.5" width="17.5" height="9.90" fill="#cdcdfc" stroke="#5a5a68" stroke-width="0.65"/>
<line x1="398.44" x2="415.94" y1="219.9" y2="219.9" stroke="#222228" stroke-width="1.15"/>
<circle cx="403.19" cy="254.1" r="0.9" fill="#1c1c24" fill-opacity="0.92"/>
<circle cx="407.19" cy="254.1" r="1.15" fill="#1a1a1a"/>
<circle cx="409.00" cy="211.90" r="0.9" fill="#1c1c24" fill-opacity="0.92"/>
<circle cx="404.90" cy="218.20" r="0.9" fill="#1c1c24" fill-opacity="0.92"/>
<circle cx="407.10" cy="219.90" r="0.9" fill="#1c1c24" fill-opacity="0.92"/>
<circle cx="411.50" cy="219.50" r="0.9" fill="#1c1c24" fill-opacity="0.92"/>
<circle cx="405.60" cy="226.20" r="0.9" fill="#1c1c24" fill-opacity="0.92"/>
<circle cx="407.10" cy="231.30" r="0.9" fill="#1c1c24" fill-opacity="0.92"/>
<circle cx="404.20" cy="234.00" r="0.9" fill="#1c1c24" fill-opacity="0.92"/>
<rect x="233.5" y="187.0" width="187.40" height="167.00" fill="none" stroke="#a4a4a4" stroke-width="1.4"/>
<line x1="231.60" x2="233.5" y1="346.40" y2="346.40" stroke="#666" stroke-width="0.9"/>
<line x1="231.60" x2="233.5" y1="308.40" y2="308.40" stroke="#666" stroke-width="0.9"/>
<line x1="231.60" x2="233.5" y1="270.40" y2="270.40" stroke="#666" stroke-width="0.9"/>
<line x1="231.60" x2="233.5" y1="232.40" y2="232.40" stroke="#666" stroke-width="0.9"/>
<line x1="231.60" x2="233.5" y1="194.40" y2="194.40" stroke="#666" stroke-width="0.9"/>
<line x1="247.21" x2="247.21" y1="354.0" y2="355.90" stroke="#666" stroke-width="0.9"/>
<text transform="translate(246.81,363.60) scale(0.89,1)" text-anchor="middle" class="xl">A</text>
<line x1="270.07" x2="270.07" y1="354.0" y2="355.90" stroke="#666" stroke-width="0.9"/>
<text transform="translate(269.67,363.60) scale(0.89,1)" text-anchor="middle" class="xl">K</text>
<line x1="292.92" x2="292.92" y1="354.0" y2="355.90" stroke="#666" stroke-width="0.9"/>
<text transform="translate(292.52,363.60) scale(0.89,1)" text-anchor="middle" class="xl">H</text>
<line x1="315.77" x2="315.77" y1="354.0" y2="355.90" stroke="#666" stroke-width="0.9"/>
<text transform="translate(315.37,363.60) scale(0.89,1)" text-anchor="middle" class="xl">S</text>
<line x1="338.63" x2="338.63" y1="354.0" y2="355.90" stroke="#666" stroke-width="0.9"/>
<text transform="translate(338.23,363.60) scale(0.89,1)" text-anchor="middle" class="xl">E</text>
<line x1="361.48" x2="361.48" y1="354.0" y2="355.90" stroke="#666" stroke-width="0.9"/>
<text transform="translate(361.08,363.60) scale(0.89,1)" text-anchor="middle" class="xl">W</text>
<line x1="384.33" x2="384.33" y1="354.0" y2="355.90" stroke="#666" stroke-width="0.9"/>
<text transform="translate(383.93,363.60) scale(0.89,1)" text-anchor="middle" class="xl">N</text>
<line x1="407.19" x2="407.19" y1="354.0" y2="355.90" stroke="#666" stroke-width="0.9"/>
<text transform="translate(406.79,363.60) scale(0.89,1)" text-anchor="middle" class="xl">CM-CP</text>
<text x="36.2" y="349.60" text-anchor="end" class="yl">0.0</text>
<text x="36.2" y="311.60" text-anchor="end" class="yl">0.5</text>
<text x="36.2" y="273.60" text-anchor="end" class="yl">1.0</text>
<text x="36.2" y="235.60" text-anchor="end" class="yl">1.5</text>
<text x="36.2" y="197.60" text-anchor="end" class="yl">2.0</text>
<line x1="39.5" x2="226.8" y1="503.57" y2="503.57" stroke="#f3f3f3" stroke-width="0.9"/>
<line x1="39.5" x2="226.8" y1="452.70" y2="452.70" stroke="#f3f3f3" stroke-width="0.9"/>
<line x1="39.5" x2="226.8" y1="401.83" y2="401.83" stroke="#f3f3f3" stroke-width="0.9"/>
<line x1="39.5" x2="226.8" y1="529.00" y2="529.00" stroke="#f0f0f0" stroke-width="1"/>
<line x1="39.5" x2="226.8" y1="478.13" y2="478.13" stroke="#f0f0f0" stroke-width="1"/>
<line x1="39.5" x2="226.8" y1="427.27" y2="427.27" stroke="#f0f0f0" stroke-width="1"/>
<line x1="39.5" x2="226.8" y1="376.40" y2="376.40" stroke="#f0f0f0" stroke-width="1"/>
<line x1="55.11" x2="55.11" y1="368.7" y2="536.3" stroke="#f0f0f0" stroke-width="1"/>
<line x1="81.12" x2="81.12" y1="368.7" y2="536.3" stroke="#f0f0f0" stroke-width="1"/>
<line x1="107.14" x2="107.14" y1="368.7" y2="536.3" stroke="#f0f0f0" stroke-width="1"/>
<line x1="133.15" x2="133.15" y1="368.7" y2="536.3" stroke="#f0f0f0" stroke-width="1"/>
<line x1="159.16" x2="159.16" y1="368.7" y2="536.3" stroke="#f0f0f0" stroke-width="1"/>
<line x1="185.18" x2="185.18" y1="368.7" y2="536.3" stroke="#f0f0f0" stroke-width="1"/>
<line x1="211.19" x2="211.19" y1="368.7" y2="536.3" stroke="#f0f0f0" stroke-width="1"/>
<line x1="55.11" x2="55.11" y1="482.9" y2="482.9" stroke="#48484f" stroke-width="0.75"/>
<line x1="55.11" x2="55.11" y1="496.0" y2="504.0" stroke="#48484f" stroke-width="0.75"/>
<rect x="45.21" y="482.9" width="19.8" height="13.10" fill="#cdcdfc" stroke="#5a5a68" stroke-width="0.65"/>
<line x1="45.21" x2="65.01" y1="486.3" y2="486.3" stroke="#222228" stroke-width="1.15"/>
<circle cx="54.31" cy="453.8" r="1.15" fill="#1a1a1a"/>
<circle cx="56.11" cy="453.8" r="1.15" fill="#1a1a1a"/>
<circle cx="50.00" cy="482.50" r="0.9" fill="#1c1c24" fill-opacity="0.92"/>
<circle cx="52.00" cy="483.50" r="0.9" fill="#1c1c24" fill-opacity="0.92"/>
<circle cx="54.00" cy="482.80" r="0.9" fill="#1c1c24" fill-opacity="0.92"/>
<circle cx="56.50" cy="483.00" r="0.9" fill="#1c1c24" fill-opacity="0.92"/>
<circle cx="58.00" cy="484.50" r="0.9" fill="#1c1c24" fill-opacity="0.92"/>
<circle cx="51.00" cy="486.30" r="0.9" fill="#1c1c24" fill-opacity="0.92"/>
<circle cx="55.00" cy="486.50" r="0.9" fill="#1c1c24" fill-opacity="0.92"/>
<circle cx="57.00" cy="492.50" r="0.9" fill="#1c1c24" fill-opacity="0.92"/>
<circle cx="52.00" cy="497.00" r="0.9" fill="#1c1c24" fill-opacity="0.92"/>
<circle cx="54.50" cy="499.00" r="0.9" fill="#1c1c24" fill-opacity="0.92"/>
<circle cx="53.00" cy="503.50" r="0.9" fill="#1c1c24" fill-opacity="0.92"/>
<circle cx="60.00" cy="496.50" r="0.9" fill="#1c1c24" fill-opacity="0.92"/>
<circle cx="49.00" cy="485.00" r="0.9" fill="#1c1c24" fill-opacity="0.92"/>
<circle cx="58.50" cy="486.30" r="0.9" fill="#1c1c24" fill-opacity="0.92"/>
<line x1="81.12" x2="81.12" y1="473.6" y2="490.0" stroke="#48484f" stroke-width="0.75"/>
<line x1="81.12" x2="81.12" y1="507.6" y2="516.4" stroke="#48484f" stroke-width="0.75"/>
<rect x="71.22" y="490.0" width="19.8" height="17.60" fill="#cdcdfc" stroke="#5a5a68" stroke-width="0.65"/>
<line x1="71.22" x2="91.02" y1="498.2" y2="498.2" stroke="#222228" stroke-width="1.15"/>
<circle cx="80.92" cy="428.5" r="1.15" fill="#1a1a1a"/>
<circle cx="80.50" cy="473.60" r="0.9" fill="#1c1c24" fill-opacity="0.92"/>
<circle cx="79.60" cy="479.10" r="0.9" fill="#1c1c24" fill-opacity="0.92"/>
<circle cx="82.00" cy="481.80" r="0.9" fill="#1c1c24" fill-opacity="0.92"/>
<circle cx="86.40" cy="479.60" r="0.9" fill="#1c1c24" fill-opacity="0.92"/>
<circle cx="77.80" cy="495.50" r="0.9" fill="#1c1c24" fill-opacity="0.92"/>
<circle cx="79.10" cy="495.10" r="0.9" fill="#1c1c24" fill-opacity="0.92"/>
<circle cx="83.30" cy="493.30" r="0.9" fill="#1c1c24" fill-opacity="0.92"/>
<circle cx="82.70" cy="500.00" r="0.9" fill="#1c1c24" fill-opacity="0.92"/>
<circle cx="76.90" cy="502.70" r="0.9" fill="#1c1c24" fill-opacity="0.92"/>
<circle cx="81.50" cy="503.60" r="0.9" fill="#1c1c24" fill-opacity="0.92"/>
<circle cx="83.30" cy="507.30" r="0.9" fill="#1c1c24" fill-opacity="0.92"/>
<circle cx="80.20" cy="509.50" r="0.9" fill="#1c1c24" fill-opacity="0.92"/>
<circle cx="79.10" cy="510.90" r="0.9" fill="#1c1c24" fill-opacity="0.92"/>
<circle cx="77.30" cy="513.60" r="0.9" fill="#1c1c24" fill-opacity="0.92"/>
<circle cx="80.50" cy="516.00" r="0.9" fill="#1c1c24" fill-opacity="0.92"/>
<line x1="107.14" x2="107.14" y1="478.2" y2="491.0" stroke="#48484f" stroke-width="0.75"/>
<line x1="107.14" x2="107.14" y1="510.1" y2="515.5" stroke="#48484f" stroke-width="0.75"/>
<rect x="97.24" y="491.0" width="19.8" height="19.10" fill="#cdcdfc" stroke="#5a5a68" stroke-width="0.65"/>
<line x1="97.24" x2="117.04" y1="502.5" y2="502.5" stroke="#222228" stroke-width="1.15"/>
<circle cx="103.54" cy="427.6" r="0.9" fill="#1c1c24" fill-opacity="0.92"/>
<circle cx="106.94" cy="427.6" r="1.15" fill="#1a1a1a"/>
<circle cx="107.30" cy="478.20" r="0.9" fill="#1c1c24" fill-opacity="0.92"/>
<circle cx="110.70" cy="480.70" r="0.9" fill="#1c1c24" fill-opacity="0.92"/>
<circle cx="107.30" cy="490.60" r="0.9" fill="#1c1c24" fill-opacity="0.92"/>
<circle cx="110.70" cy="491.00" r="0.9" fill="#1c1c24" fill-opacity="0.92"/>
<circle cx="105.00" cy="494.80" r="0.9" fill="#1c1c24" fill-opacity="0.92"/>
<circle cx="107.70" cy="494.50" r="0.9" fill="#1c1c24" fill-opacity="0.92"/>
<circle cx="111.50" cy="498.30" r="0.9" fill="#1c1c24" fill-opacity="0.92"/>
<circle cx="109.20" cy="502.50" r="0.9" fill="#1c1c24" fill-opacity="0.92"/>
<circle cx="108.20" cy="505.00" r="0.9" fill="#1c1c24" fill-opacity="0.92"/>
<circle cx="110.10" cy="506.90" r="0.9" fill="#1c1c24" fill-opacity="0.92"/>
<circle cx="103.80" cy="509.70" r="0.9" fill="#1c1c24" fill-opacity="0.92"/>
<circle cx="103.80" cy="512.60" r="0.9" fill="#1c1c24" fill-opacity="0.92"/>
<circle cx="108.20" cy="511.60" r="0.9" fill="#1c1c24" fill-opacity="0.92"/>
<circle cx="111.10" cy="511.30" r="0.9" fill="#1c1c24" fill-opacity="0.92"/>
<circle cx="107.30" cy="515.50" r="0.9" fill="#1c1c24" fill-opacity="0.92"/>
<line x1="133.15" x2="133.15" y1="438.5" y2="473.5" stroke="#48484f" stroke-width="0.75"/>
<line x1="133.15" x2="133.15" y1="505.5" y2="519.3" stroke="#48484f" stroke-width="0.75"/>
<rect x="123.25" y="473.5" width="19.8" height="32.00" fill="#cdcdfc" stroke="#5a5a68" stroke-width="0.65"/>
<line x1="123.25" x2="143.05" y1="497.9" y2="497.9" stroke="#222228" stroke-width="1.15"/>
<circle cx="132.70" cy="438.50" r="0.9" fill="#1c1c24" fill-opacity="0.92"/>
<circle cx="136.90" cy="438.10" r="0.9" fill="#1c1c24" fill-opacity="0.92"/>
<circle cx="127.90" cy="449.60" r="0.9" fill="#1c1c24" fill-opacity="0.92"/>
<circle cx="133.60" cy="460.70" r="0.9" fill="#1c1c24" fill-opacity="0.92"/>
<circle cx="132.10" cy="462.40" r="0.9" fill="#1c1c24" fill-opacity="0.92"/>
<circle cx="128.80" cy="476.90" r="0.9" fill="#1c1c24" fill-opacity="0.92"/>
<circle cx="128.80" cy="484.90" r="0.9" fill="#1c1c24" fill-opacity="0.92"/>
<circle cx="136.30" cy="485.30" r="0.9" fill="#1c1c24" fill-opacity="0.92"/>
<circle cx="131.10" cy="492.50" r="0.9" fill="#1c1c24" fill-opacity="0.92"/>
<circle cx="129.20" cy="496.90" r="0.9" fill="#1c1c24" fill-opacity="0.92"/>
<circle cx="132.70" cy="498.30" r="0.9" fill="#1c1c24" fill-opacity="0.92"/>
<circle cx="128.80" cy="502.50" r="0.9" fill="#1c1c24" fill-opacity="0.92"/>
<circle cx="134.40" cy="503.00" r="0.9" fill="#1c1c24" fill-opacity="0.92"/>
<circle cx="138.20" cy="502.50" r="0.9" fill="#1c1c24" fill-opacity="0.92"/>
<circle cx="132.70" cy="505.90" r="0.9" fill="#1c1c24" fill-opacity="0.92"/>
<circle cx="133.60" cy="508.20" r="0.9" fill="#1c1c24" fill-opacity="0.92"/>
<circle cx="135.90" cy="508.20" r="0.9" fill="#1c1c24" fill-opacity="0.92"/>
<circle cx="127.90" cy="519.30" r="0.9" fill="#1c1c24" fill-opacity="0.92"/>
<line x1="159.16" x2="159.16" y1="460.9" y2="488.0" stroke="#48484f" stroke-width="0.75"/>
<line x1="159.16" x2="159.16" y1="508.1" y2="526.5" stroke="#48484f" stroke-width="0.75"/>
<rect x="149.26" y="488.0" width="19.8" height="20.10" fill="#cdcdfc" stroke="#5a5a68" stroke-width="0.65"/>
<line x1="149.26" x2="169.06" y1="501.2" y2="501.2" stroke="#222228" stroke-width="1.15"/>
<circle cx="155.26" cy="410.3" r="0.9" fill="#1c1c24" fill-opacity="0.92"/>
<circle cx="158.96" cy="410.3" r="1.15" fill="#1a1a1a"/>
<circle cx="158.96" cy="445.9" r="1.15" fill="#1a1a1a"/>
<circle cx="162.66" cy="445.9" r="0.9" fill="#1c1c24" fill-opacity="0.92"/>
<circle cx="156.80" cy="460.90" r="0.9" fill="#1c1c24" fill-opacity="0.92"/>
<circle cx="156.10" cy="472.50" r="0.9" fill="#1c1c24" fill-opacity="0.92"/>
<circle cx="159.70" cy="472.00" r="0.9" fill="#1c1c24" fill-opacity="0.92"/>
<circle cx="154.80" cy="493.40" r="0.9" fill="#1c1c24" fill-opacity="0.92"/>
<circle cx="158.50" cy="493.40" r="0.9" fill="#1c1c24" fill-opacity="0.92"/>
<circle cx="161.70" cy="499.00" r="0.9" fill="#1c1c24" fill-opacity="0.92"/>
<circle cx="157.80" cy="499.50" r="0.9" fill="#1c1c24" fill-opacity="0.92"/>
<circle cx="156.10" cy="503.20" r="0.9" fill="#1c1c24" fill-opacity="0.92"/>
<circle cx="157.80" cy="505.20" r="0.9" fill="#1c1c24" fill-opacity="0.92"/>
<circle cx="156.80" cy="506.90" r="0.9" fill="#1c1c24" fill-opacity="0.92"/>
<circle cx="164.20" cy="509.30" r="0.9" fill="#1c1c24" fill-opacity="0.92"/>
<circle cx="159.30" cy="510.60" r="0.9" fill="#1c1c24" fill-opacity="0.92"/>
<circle cx="154.30" cy="514.30" r="0.9" fill="#1c1c24" fill-opacity="0.92"/>
<circle cx="156.10" cy="525.80" r="0.9" fill="#1c1c24" fill-opacity="0.92"/>
<circle cx="156.30" cy="526.80" r="0.9" fill="#1c1c24" fill-opacity="0.92"/>
<line x1="185.18" x2="185.18" y1="460.9" y2="479.1" stroke="#48484f" stroke-width="0.75"/>
<line x1="185.18" x2="185.18" y1="500.7" y2="515.5" stroke="#48484f" stroke-width="0.75"/>
<rect x="175.28" y="479.1" width="19.8" height="21.60" fill="#cdcdfc" stroke="#5a5a68" stroke-width="0.65"/>
<line x1="175.28" x2="195.08" y1="490.4" y2="490.4" stroke="#222228" stroke-width="1.15"/>
<circle cx="182.28" cy="424.1" r="0.9" fill="#1c1c24" fill-opacity="0.92"/>
<circle cx="184.78" cy="424.1" r="1.15" fill="#1a1a1a"/>
<circle cx="185.48" cy="433.2" r="1.15" fill="#1a1a1a"/>
<circle cx="188.00" cy="460.90" r="0.9" fill="#1c1c24" fill-opacity="0.92"/>
<circle cx="187.30" cy="470.00" r="0.9" fill="#1c1c24" fill-opacity="0.92"/>
<circle cx="183.80" cy="476.20" r="0.9" fill="#1c1c24" fill-opacity="0.92"/>
<circle cx="185.50" cy="479.90" r="0.9" fill="#1c1c24" fill-opacity="0.92"/>
<circle cx="184.80" cy="481.10" r="0.9" fill="#1c1c24" fill-opacity="0.92"/>
<circle cx="181.90" cy="483.50" r="0.9" fill="#1c1c24" fill-opacity="0.92"/>
<circle cx="183.10" cy="486.50" r="0.9" fill="#1c1c24" fill-opacity="0.92"/>
<circle cx="184.80" cy="490.40" r="0.9" fill="#1c1c24" fill-opacity="0.92"/>
<circle cx="181.90" cy="492.90" r="0.9" fill="#1c1c24" fill-opacity="0.92"/>
<circle cx="185.50" cy="494.60" r="0.9" fill="#1c1c24" fill-opacity="0.92"/>
<circle cx="180.60" cy="498.30" r="0.9" fill="#1c1c24" fill-opacity="0.92"/>
<circle cx="188.00" cy="499.50" r="0.9" fill="#1c1c24" fill-opacity="0.92"/>
<circle cx="186.80" cy="504.40" r="0.9" fill="#1c1c24" fill-opacity="0.92"/>
<circle cx="184.80" cy="508.10" r="0.9" fill="#1c1c24" fill-opacity="0.92"/>
<circle cx="182.30" cy="509.30" r="0.9" fill="#1c1c24" fill-opacity="0.92"/>
<circle cx="184.30" cy="517.90" r="0.9" fill="#1c1c24" fill-opacity="0.92"/>
<line x1="211.19" x2="211.19" y1="474.8" y2="488.1" stroke="#48484f" stroke-width="0.75"/>
<line x1="211.19" x2="211.19" y1="512.3" y2="512.3" stroke="#48484f" stroke-width="0.75"/>
<rect x="201.29" y="488.1" width="19.8" height="24.20" fill="#cdcdfc" stroke="#5a5a68" stroke-width="0.65"/>
<line x1="201.29" x2="221.09" y1="500.1" y2="500.1" stroke="#222228" stroke-width="1.15"/>
<circle cx="206.20" cy="475.10" r="0.9" fill="#1c1c24" fill-opacity="0.92"/>
<circle cx="213.30" cy="474.80" r="0.9" fill="#1c1c24" fill-opacity="0.92"/>
<circle cx="206.20" cy="486.20" r="0.9" fill="#1c1c24" fill-opacity="0.92"/>
<circle cx="212.50" cy="492.80" r="0.9" fill="#1c1c24" fill-opacity="0.92"/>
<circle cx="212.50" cy="499.60" r="0.9" fill="#1c1c24" fill-opacity="0.92"/>
<circle cx="208.60" cy="500.70" r="0.9" fill="#1c1c24" fill-opacity="0.92"/>
<circle cx="207.40" cy="512.50" r="0.9" fill="#1c1c24" fill-opacity="0.92"/>
<circle cx="211.50" cy="512.90" r="0.9" fill="#1c1c24" fill-opacity="0.92"/>
<circle cx="210.30" cy="513.70" r="0.9" fill="#1c1c24" fill-opacity="0.92"/>
<circle cx="209.20" cy="515.50" r="0.9" fill="#1c1c24" fill-opacity="0.92"/>
<rect x="39.5" y="368.7" width="187.30" height="167.60" fill="none" stroke="#a4a4a4" stroke-width="1.4"/>
<line x1="37.60" x2="39.5" y1="529.00" y2="529.00" stroke="#666" stroke-width="0.9"/>
<line x1="37.60" x2="39.5" y1="478.13" y2="478.13" stroke="#666" stroke-width="0.9"/>
<line x1="37.60" x2="39.5" y1="427.27" y2="427.27" stroke="#666" stroke-width="0.9"/>
<line x1="37.60" x2="39.5" y1="376.40" y2="376.40" stroke="#666" stroke-width="0.9"/>
<line x1="55.11" x2="55.11" y1="536.3" y2="538.20" stroke="#666" stroke-width="0.9"/>
<text transform="translate(55.31,545.90) scale(0.89,1)" text-anchor="middle" class="xl">W</text>
<line x1="81.12" x2="81.12" y1="536.3" y2="538.20" stroke="#666" stroke-width="0.9"/>
<text transform="translate(81.32,545.90) scale(0.89,1)" text-anchor="middle" class="xl">E</text>
<line x1="107.14" x2="107.14" y1="536.3" y2="538.20" stroke="#666" stroke-width="0.9"/>
<text transform="translate(107.34,545.90) scale(0.89,1)" text-anchor="middle" class="xl">S</text>
<line x1="133.15" x2="133.15" y1="536.3" y2="538.20" stroke="#666" stroke-width="0.9"/>
<text transform="translate(133.35,545.90) scale(0.89,1)" text-anchor="middle" class="xl">H</text>
<line x1="159.16" x2="159.16" y1="536.3" y2="538.20" stroke="#666" stroke-width="0.9"/>
<text transform="translate(159.36,545.90) scale(0.89,1)" text-anchor="middle" class="xl">K</text>
<line x1="185.18" x2="185.18" y1="536.3" y2="538.20" stroke="#666" stroke-width="0.9"/>
<text transform="translate(185.38,545.90) scale(0.89,1)" text-anchor="middle" class="xl">A</text>
<line x1="211.19" x2="211.19" y1="536.3" y2="538.20" stroke="#666" stroke-width="0.9"/>
<text transform="translate(211.39,545.90) scale(0.89,1)" text-anchor="middle" class="xl">N</text>
<line x1="233.6" x2="421.3" y1="503.57" y2="503.57" stroke="#f3f3f3" stroke-width="0.9"/>
<line x1="233.6" x2="421.3" y1="452.70" y2="452.70" stroke="#f3f3f3" stroke-width="0.9"/>
<line x1="233.6" x2="421.3" y1="401.83" y2="401.83" stroke="#f3f3f3" stroke-width="0.9"/>
<line x1="233.6" x2="421.3" y1="529.00" y2="529.00" stroke="#f0f0f0" stroke-width="1"/>
<line x1="233.6" x2="421.3" y1="478.13" y2="478.13" stroke="#f0f0f0" stroke-width="1"/>
<line x1="233.6" x2="421.3" y1="427.27" y2="427.27" stroke="#f0f0f0" stroke-width="1"/>
<line x1="233.6" x2="421.3" y1="376.40" y2="376.40" stroke="#f0f0f0" stroke-width="1"/>
<line x1="249.24" x2="249.24" y1="368.7" y2="536.3" stroke="#f0f0f0" stroke-width="1"/>
<line x1="275.31" x2="275.31" y1="368.7" y2="536.3" stroke="#f0f0f0" stroke-width="1"/>
<line x1="301.38" x2="301.38" y1="368.7" y2="536.3" stroke="#f0f0f0" stroke-width="1"/>
<line x1="327.45" x2="327.45" y1="368.7" y2="536.3" stroke="#f0f0f0" stroke-width="1"/>
<line x1="353.52" x2="353.52" y1="368.7" y2="536.3" stroke="#f0f0f0" stroke-width="1"/>
<line x1="379.59" x2="379.59" y1="368.7" y2="536.3" stroke="#f0f0f0" stroke-width="1"/>
<line x1="405.66" x2="405.66" y1="368.7" y2="536.3" stroke="#f0f0f0" stroke-width="1"/>
<line x1="249.24" x2="249.24" y1="378.2" y2="421.8" stroke="#48484f" stroke-width="0.75"/>
<line x1="249.24" x2="249.24" y1="481.8" y2="513.2" stroke="#48484f" stroke-width="0.75"/>
<rect x="239.34" y="421.8" width="19.8" height="60.00" fill="#cdcdfc" stroke="#5a5a68" stroke-width="0.65"/>
<line x1="239.34" x2="259.14" y1="455.4" y2="455.4" stroke="#222228" stroke-width="1.15"/>
<circle cx="246.40" cy="378.20" r="0.9" fill="#1c1c24" fill-opacity="0.92"/>
<circle cx="252.60" cy="378.20" r="0.9" fill="#1c1c24" fill-opacity="0.92"/>
<circle cx="245.00" cy="409.50" r="0.9" fill="#1c1c24" fill-opacity="0.92"/>
<circle cx="253.20" cy="409.50" r="0.9" fill="#1c1c24" fill-opacity="0.92"/>
<circle cx="250.50" cy="419.90" r="0.9" fill="#1c1c24" fill-opacity="0.92"/>
<circle cx="251.80" cy="422.60" r="0.9" fill="#1c1c24" fill-opacity="0.92"/>
<circle cx="249.10" cy="447.70" r="0.9" fill="#1c1c24" fill-opacity="0.92"/>
<circle cx="253.20" cy="448.30" r="0.9" fill="#1c1c24" fill-opacity="0.92"/>
<circle cx="247.70" cy="451.80" r="0.9" fill="#1c1c24" fill-opacity="0.92"/>
<circle cx="254.00" cy="451.00" r="0.9" fill="#1c1c24" fill-opacity="0.92"/>
<circle cx="246.90" cy="460.00" r="0.9" fill="#1c1c24" fill-opacity="0.92"/>
<circle cx="251.30" cy="459.40" r="0.9" fill="#1c1c24" fill-opacity="0.92"/>
<circle cx="246.90" cy="468.20" r="0.9" fill="#1c1c24" fill-opacity="0.92"/>
<circle cx="251.30" cy="467.40" r="0.9" fill="#1c1c24" fill-opacity="0.92"/>
<circle cx="249.90" cy="479.10" r="0.9" fill="#1c1c24" fill-opacity="0.92"/>
<circle cx="247.20" cy="491.40" r="0.9" fill="#1c1c24" fill-opacity="0.92"/>
<circle cx="248.30" cy="493.30" r="0.9" fill="#1c1c24" fill-opacity="0.92"/>
<circle cx="245.00" cy="502.30" r="0.9" fill="#1c1c24" fill-opacity="0.92"/>
<circle cx="251.30" cy="506.40" r="0.9" fill="#1c1c24" fill-opacity="0.92"/>
<circle cx="246.90" cy="512.40" r="0.9" fill="#1c1c24" fill-opacity="0.92"/>
<line x1="275.31" x2="275.31" y1="466.4" y2="476.4" stroke="#48484f" stroke-width="0.75"/>
<line x1="275.31" x2="275.31" y1="498.7" y2="518.7" stroke="#48484f" stroke-width="0.75"/>
<rect x="265.41" y="476.4" width="19.8" height="22.30" fill="#cdcdfc" stroke="#5a5a68" stroke-width="0.65"/>
<line x1="265.41" x2="285.21" y1="491.5" y2="491.5" stroke="#222228" stroke-width="1.15"/>
<circle cx="270.90" cy="466.40" r="0.9" fill="#1c1c24" fill-opacity="0.92"/>
<circle cx="272.70" cy="467.30" r="0.9" fill="#1c1c24" fill-opacity="0.92"/>
<circle cx="280.40" cy="468.70" r="0.9" fill="#1c1c24" fill-opacity="0.92"/>
<circle cx="278.20" cy="473.30" r="0.9" fill="#1c1c24" fill-opacity="0.92"/>
<circle cx="270.90" cy="477.00" r="0.9" fill="#1c1c24" fill-opacity="0.92"/>
<circle cx="280.00" cy="476.40" r="0.9" fill="#1c1c24" fill-opacity="0.92"/>
<circle cx="274.20" cy="485.10" r="0.9" fill="#1c1c24" fill-opacity="0.92"/>
<circle cx="278.20" cy="487.30" r="0.9" fill="#1c1c24" fill-opacity="0.92"/>
<circle cx="279.00" cy="488.20" r="0.9" fill="#1c1c24" fill-opacity="0.92"/>
<circle cx="276.40" cy="491.50" r="0.9" fill="#1c1c24" fill-opacity="0.92"/>
<circle cx="273.60" cy="497.30" r="0.9" fill="#1c1c24" fill-opacity="0.92"/>
<circle cx="278.20" cy="498.20" r="0.9" fill="#1c1c24" fill-opacity="0.92"/>
<circle cx="278.50" cy="501.50" r="0.9" fill="#1c1c24" fill-opacity="0.92"/>
<circle cx="274.50" cy="506.70" r="0.9" fill="#1c1c24" fill-opacity="0.92"/>
<circle cx="272.40" cy="518.70" r="0.9" fill="#1c1c24" fill-opacity="0.92"/>
<line x1="301.38" x2="301.38" y1="469.6" y2="493.1" stroke="#48484f" stroke-width="0.75"/>
<line x1="301.38" x2="301.38" y1="512.2" y2="518.7" stroke="#48484f" stroke-width="0.75"/>
<rect x="291.48" y="493.1" width="19.8" height="19.10" fill="#cdcdfc" stroke="#5a5a68" stroke-width="0.65"/>
<line x1="291.48" x2="311.28" y1="508.2" y2="508.2" stroke="#222228" stroke-width="1.15"/>
<circle cx="301.48" cy="449.1" r="1.15" fill="#1a1a1a"/>
<circle cx="301.48" cy="455.5" r="1.15" fill="#1a1a1a"/>
<circle cx="305.08" cy="455.5" r="0.9" fill="#1c1c24" fill-opacity="0.92"/>
<circle cx="301.48" cy="462.7" r="1.15" fill="#1a1a1a"/>
<circle cx="305.08" cy="462.7" r="0.9" fill="#1c1c24" fill-opacity="0.92"/>
<circle cx="297.80" cy="469.60" r="0.9" fill="#1c1c24" fill-opacity="0.92"/>
<circle cx="299.10" cy="484.20" r="0.9" fill="#1c1c24" fill-opacity="0.92"/>
<circle cx="301.50" cy="495.80" r="0.9" fill="#1c1c24" fill-opacity="0.92"/>
<circle cx="303.60" cy="496.90" r="0.9" fill="#1c1c24" fill-opacity="0.92"/>
<circle cx="297.80" cy="500.50" r="0.9" fill="#1c1c24" fill-opacity="0.92"/>
<circle cx="298.70" cy="508.20" r="0.9" fill="#1c1c24" fill-opacity="0.92"/>
<circle cx="302.70" cy="509.10" r="0.9" fill="#1c1c24" fill-opacity="0.92"/>
<circle cx="305.10" cy="512.70" r="0.9" fill="#1c1c24" fill-opacity="0.92"/>
<circle cx="301.50" cy="513.50" r="0.9" fill="#1c1c24" fill-opacity="0.92"/>
<circle cx="297.80" cy="515.50" r="0.9" fill="#1c1c24" fill-opacity="0.92"/>
<circle cx="297.30" cy="518.70" r="0.9" fill="#1c1c24" fill-opacity="0.92"/>
<circle cx="301.50" cy="518.70" r="0.9" fill="#1c1c24" fill-opacity="0.92"/>
<line x1="327.45" x2="327.45" y1="478.1" y2="496.2" stroke="#48484f" stroke-width="0.75"/>
<line x1="327.45" x2="327.45" y1="517.6" y2="523.3" stroke="#48484f" stroke-width="0.75"/>
<rect x="317.55" y="496.2" width="19.8" height="21.40" fill="#cdcdfc" stroke="#5a5a68" stroke-width="0.65"/>
<line x1="317.55" x2="337.35" y1="513.2" y2="513.2" stroke="#222228" stroke-width="1.15"/>
<circle cx="323.45" cy="450.4" r="0.9" fill="#1c1c24" fill-opacity="0.92"/>
<circle cx="327.65" cy="450.4" r="1.15" fill="#1a1a1a"/>
<circle cx="327.25" cy="456.1" r="1.15" fill="#1a1a1a"/>
<circle cx="328.20" cy="478.10" r="0.9" fill="#1c1c24" fill-opacity="0.92"/>
<circle cx="331.10" cy="477.50" r="0.9" fill="#1c1c24" fill-opacity="0.92"/>
<circle cx="330.10" cy="482.30" r="0.9" fill="#1c1c24" fill-opacity="0.92"/>
<circle cx="325.00" cy="501.00" r="0.9" fill="#1c1c24" fill-opacity="0.92"/>
<circle cx="323.10" cy="503.30" r="0.9" fill="#1c1c24" fill-opacity="0.92"/>
<circle cx="331.50" cy="504.80" r="0.9" fill="#1c1c24" fill-opacity="0.92"/>
<circle cx="327.80" cy="510.00" r="0.9" fill="#1c1c24" fill-opacity="0.92"/>
<circle cx="330.70" cy="512.80" r="0.9" fill="#1c1c24" fill-opacity="0.92"/>
<circle cx="331.70" cy="514.70" r="0.9" fill="#1c1c24" fill-opacity="0.92"/>
<circle cx="330.10" cy="516.30" r="0.9" fill="#1c1c24" fill-opacity="0.92"/>
<circle cx="332.00" cy="517.20" r="0.9" fill="#1c1c24" fill-opacity="0.92"/>
<circle cx="325.00" cy="519.50" r="0.9" fill="#1c1c24" fill-opacity="0.92"/>
<circle cx="327.30" cy="519.50" r="0.9" fill="#1c1c24" fill-opacity="0.92"/>
<circle cx="330.10" cy="523.30" r="0.9" fill="#1c1c24" fill-opacity="0.92"/>
<circle cx="329.20" cy="524.30" r="0.9" fill="#1c1c24" fill-opacity="0.92"/>
<line x1="353.52" x2="353.52" y1="433.6" y2="475.6" stroke="#48484f" stroke-width="0.75"/>
<line x1="353.52" x2="353.52" y1="509.0" y2="521.4" stroke="#48484f" stroke-width="0.75"/>
<rect x="343.62" y="475.6" width="19.8" height="33.40" fill="#cdcdfc" stroke="#5a5a68" stroke-width="0.65"/>
<line x1="343.62" x2="363.42" y1="497.2" y2="497.2" stroke="#222228" stroke-width="1.15"/>
<circle cx="353.00" cy="433.60" r="0.9" fill="#1c1c24" fill-opacity="0.92"/>
<circle cx="355.50" cy="444.70" r="0.9" fill="#1c1c24" fill-opacity="0.92"/>
<circle cx="357.80" cy="446.60" r="0.9" fill="#1c1c24" fill-opacity="0.92"/>
<circle cx="354.40" cy="470.80" r="0.9" fill="#1c1c24" fill-opacity="0.92"/>
<circle cx="357.80" cy="469.90" r="0.9" fill="#1c1c24" fill-opacity="0.92"/>
<circle cx="349.20" cy="476.90" r="0.9" fill="#1c1c24" fill-opacity="0.92"/>
<circle cx="349.20" cy="481.90" r="0.9" fill="#1c1c24" fill-opacity="0.92"/>
<circle cx="357.40" cy="494.70" r="0.9" fill="#1c1c24" fill-opacity="0.92"/>
<circle cx="345.40" cy="497.20" r="0.9" fill="#1c1c24" fill-opacity="0.92"/>
<circle cx="349.20" cy="497.20" r="0.9" fill="#1c1c24" fill-opacity="0.92"/>
<circle cx="353.00" cy="497.20" r="0.9" fill="#1c1c24" fill-opacity="0.92"/>
<circle cx="355.50" cy="497.20" r="0.9" fill="#1c1c24" fill-opacity="0.92"/>
<circle cx="352.50" cy="500.80" r="0.9" fill="#1c1c24" fill-opacity="0.92"/>
<circle cx="357.80" cy="500.80" r="0.9" fill="#1c1c24" fill-opacity="0.92"/>
<circle cx="347.90" cy="509.00" r="0.9" fill="#1c1c24" fill-opacity="0.92"/>
<circle cx="356.30" cy="508.00" r="0.9" fill="#1c1c24" fill-opacity="0.92"/>
<circle cx="351.70" cy="513.20" r="0.9" fill="#1c1c24" fill-opacity="0.92"/>
<circle cx="355.90" cy="520.80" r="0.9" fill="#1c1c24" fill-opacity="0.92"/>
<line x1="379.59" x2="379.59" y1="448.3" y2="482.3" stroke="#48484f" stroke-width="0.75"/>
<line x1="379.59" x2="379.59" y1="510.9" y2="519.5" stroke="#48484f" stroke-width="0.75"/>
<rect x="369.69" y="482.3" width="19.8" height="28.60" fill="#cdcdfc" stroke="#5a5a68" stroke-width="0.65"/>
<line x1="369.69" x2="389.49" y1="506.7" y2="506.7" stroke="#222228" stroke-width="1.15"/>
<circle cx="379.29" cy="431.7" r="1.15" fill="#1a1a1a"/>
<circle cx="381.19" cy="431.7" r="1.15" fill="#1a1a1a"/>
<circle cx="383.10" cy="448.30" r="0.9" fill="#1c1c24" fill-opacity="0.92"/>
<circle cx="375.90" cy="466.00" r="0.9" fill="#1c1c24" fill-opacity="0.92"/>
<circle cx="383.10" cy="473.70" r="0.9" fill="#1c1c24" fill-opacity="0.92"/>
<circle cx="383.70" cy="479.00" r="0.9" fill="#1c1c24" fill-opacity="0.92"/>
<circle cx="376.80" cy="483.20" r="0.9" fill="#1c1c24" fill-opacity="0.92"/>
<circle cx="382.60" cy="484.20" r="0.9" fill="#1c1c24" fill-opacity="0.92"/>
<circle cx="378.70" cy="501.00" r="0.9" fill="#1c1c24" fill-opacity="0.92"/>
<circle cx="381.80" cy="501.90" r="0.9" fill="#1c1c24" fill-opacity="0.92"/>
<circle cx="378.40" cy="507.10" r="0.9" fill="#1c1c24" fill-opacity="0.92"/>
<circle cx="379.90" cy="508.60" r="0.9" fill="#1c1c24" fill-opacity="0.92"/>
<circle cx="378.70" cy="513.80" r="0.9" fill="#1c1c24" fill-opacity="0.92"/>
<circle cx="382.60" cy="513.80" r="0.9" fill="#1c1c24" fill-opacity="0.92"/>
<circle cx="377.40" cy="516.60" r="0.9" fill="#1c1c24" fill-opacity="0.92"/>
<circle cx="376.10" cy="520.50" r="0.9" fill="#1c1c24" fill-opacity="0.92"/>
<circle cx="374.50" cy="520.80" r="0.9" fill="#1c1c24" fill-opacity="0.92"/>
<line x1="405.66" x2="405.66" y1="504.2" y2="505.2" stroke="#48484f" stroke-width="0.75"/>
<line x1="405.66" x2="405.66" y1="517.6" y2="524.3" stroke="#48484f" stroke-width="0.75"/>
<rect x="395.76" y="505.2" width="19.8" height="12.40" fill="#cdcdfc" stroke="#5a5a68" stroke-width="0.65"/>
<line x1="395.76" x2="415.56" y1="511.9" y2="511.9" stroke="#222228" stroke-width="1.15"/>
<circle cx="405.46" cy="480.4" r="1.15" fill="#1a1a1a"/>
<circle cx="408.90" cy="504.20" r="0.9" fill="#1c1c24" fill-opacity="0.92"/>
<circle cx="408.00" cy="504.60" r="0.9" fill="#1c1c24" fill-opacity="0.92"/>
<circle cx="405.50" cy="507.10" r="0.9" fill="#1c1c24" fill-opacity="0.92"/>
<circle cx="402.20" cy="511.90" r="0.9" fill="#1c1c24" fill-opacity="0.92"/>
<circle cx="406.00" cy="511.90" r="0.9" fill="#1c1c24" fill-opacity="0.92"/>
<circle cx="406.00" cy="516.60" r="0.9" fill="#1c1c24" fill-opacity="0.92"/>
<circle cx="407.00" cy="518.90" r="0.9" fill="#1c1c24" fill-opacity="0.92"/>
<circle cx="404.10" cy="524.30" r="0.9" fill="#1c1c24" fill-opacity="0.92"/>
<rect x="233.6" y="368.7" width="187.70" height="167.60" fill="none" stroke="#a4a4a4" stroke-width="1.4"/>
<line x1="231.70" x2="233.6" y1="529.00" y2="529.00" stroke="#666" stroke-width="0.9"/>
<line x1="231.70" x2="233.6" y1="478.13" y2="478.13" stroke="#666" stroke-width="0.9"/>
<line x1="231.70" x2="233.6" y1="427.27" y2="427.27" stroke="#666" stroke-width="0.9"/>
<line x1="231.70" x2="233.6" y1="376.40" y2="376.40" stroke="#666" stroke-width="0.9"/>
<line x1="249.24" x2="249.24" y1="536.3" y2="538.20" stroke="#666" stroke-width="0.9"/>
<text transform="translate(249.44,545.90) scale(0.89,1)" text-anchor="middle" class="xl">A</text>
<line x1="275.31" x2="275.31" y1="536.3" y2="538.20" stroke="#666" stroke-width="0.9"/>
<text transform="translate(275.51,545.90) scale(0.89,1)" text-anchor="middle" class="xl">K</text>
<line x1="301.38" x2="301.38" y1="536.3" y2="538.20" stroke="#666" stroke-width="0.9"/>
<text transform="translate(301.58,545.90) scale(0.89,1)" text-anchor="middle" class="xl">H</text>
<line x1="327.45" x2="327.45" y1="536.3" y2="538.20" stroke="#666" stroke-width="0.9"/>
<text transform="translate(327.65,545.90) scale(0.89,1)" text-anchor="middle" class="xl">S</text>
<line x1="353.52" x2="353.52" y1="536.3" y2="538.20" stroke="#666" stroke-width="0.9"/>
<text transform="translate(353.72,545.90) scale(0.89,1)" text-anchor="middle" class="xl">E</text>
<line x1="379.59" x2="379.59" y1="536.3" y2="538.20" stroke="#666" stroke-width="0.9"/>
<text transform="translate(379.79,545.90) scale(0.89,1)" text-anchor="middle" class="xl">W</text>
<line x1="405.66" x2="405.66" y1="536.3" y2="538.20" stroke="#666" stroke-width="0.9"/>
<text transform="translate(405.86,545.90) scale(0.89,1)" text-anchor="middle" class="xl">N</text>
<text x="36.2" y="532.20" text-anchor="end" class="yl">0.0</text>
<text x="36.2" y="481.33" text-anchor="end" class="yl">0.2</text>
<text x="36.2" y="430.47" text-anchor="end" class="yl">0.4</text>
<text x="36.2" y="379.60" text-anchor="end" class="yl">0.6</text>
<text x="104.5" y="18.5" class="ft">Handstand</text>
<text x="303.2" y="18.5" class="ft">Standing</text>
<text transform="translate(16.7,107.95) rotate(-90)" class="yt">SampEn</text>
<text transform="translate(19.0,62.9) rotate(-90)" class="yt sub">F/E</text>
<text transform="translate(17.6,309.45) rotate(-90)" class="yt">SampEn</text>
<text transform="translate(21.0,264.7) rotate(-90)" class="yt sub">Ad/Ab</text>
<text transform="translate(17.6,494.55) rotate(-90)" class="yt">SampEn</text>
<text transform="translate(20.8,449.2) rotate(-90)" class="yt sub">I/E</text>
<text x="426.1" y="16.90" class="lg">W = wrist</text>
<text x="426.1" y="30.90" class="lg">E = elbow</text>
<text x="426.1" y="44.90" class="lg">S = shoulder</text>
<text x="426.1" y="58.90" class="lg">H = hip</text>
<text x="426.1" y="72.90" class="lg">K = knee</text>
<text x="426.1" y="86.90" class="lg">A = ankle</text>
<text x="426.1" y="100.90" class="lg">N = neck</text>
</svg>
</body></html>
